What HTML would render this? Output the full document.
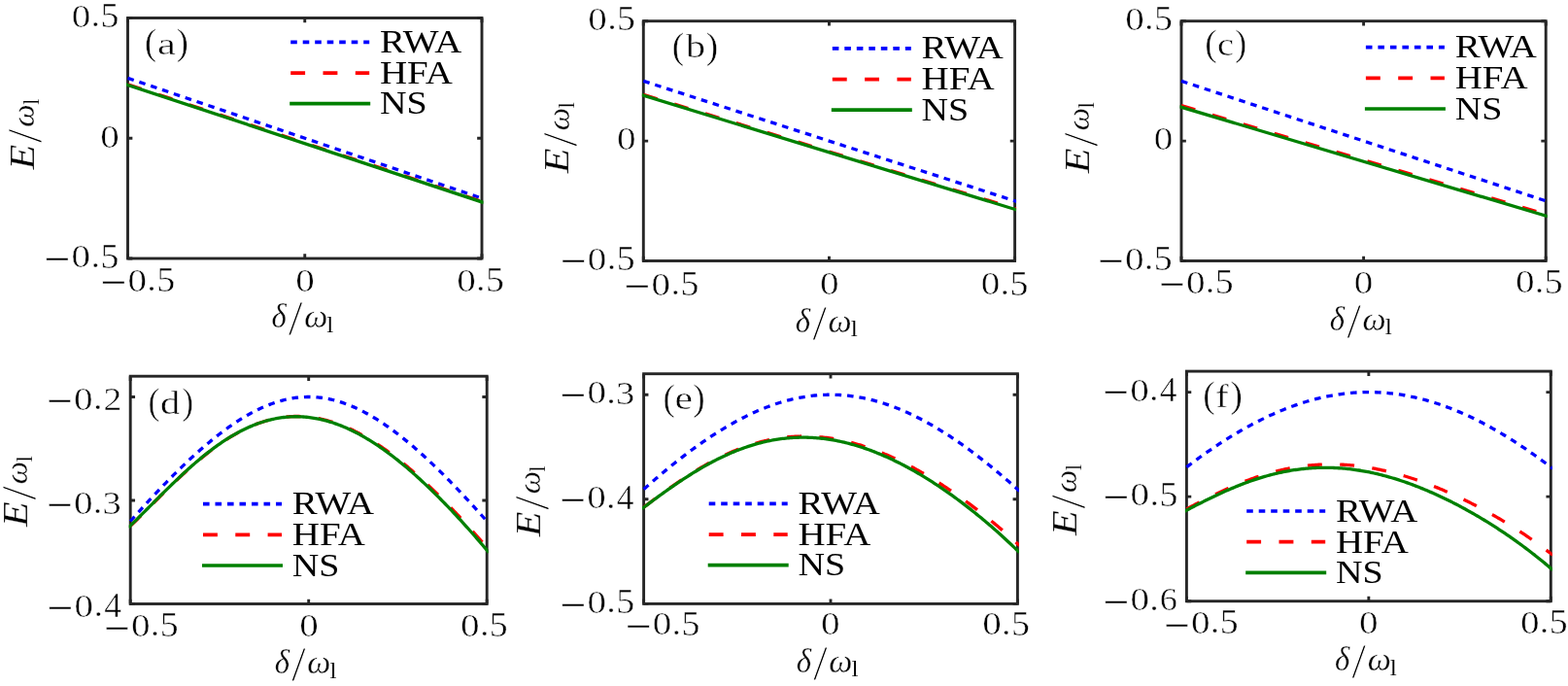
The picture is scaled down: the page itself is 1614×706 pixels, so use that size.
<!DOCTYPE html><html><head><meta charset="utf-8"><title>Quasi-energy comparison: RWA, HFA, NS</title><style>html,body{margin:0;padding:0;background:#fff;}svg{display:block;}</style></head><body>
<svg width="1614" height="706" viewBox="0 0 1614 706">
<rect width="1614" height="706" fill="#fff"/>
<path d="M131.5,266.00h4.85M496.0,266.00h-4.85M131.5,142.25h4.85M496.0,142.25h-4.85M131.5,18.50h4.85M496.0,18.50h-4.85M131.50,266.0v-4.85M131.50,18.5v4.85M313.75,266.0v-4.85M313.75,18.5v4.85M496.00,266.0v-4.85M496.00,18.5v4.85" stroke="#262626" stroke-width="2.9" fill="none"/>
<rect x="131.5" y="18.5" width="364.50" height="247.50" fill="none" stroke="#262626" stroke-width="2.9"/>
<defs><clipPath id="clipa"><rect x="130.0" y="18.5" width="367.5" height="247.5"/></clipPath></defs>
<g clip-path="url(#clipa)" fill="none" stroke-width="3.3">
<path d="M129.50,79.70 L498.00,204.80" stroke="#0000ff" stroke-dasharray="6.6 5.9" stroke-dashoffset="-2.11"/>
<path d="M129.50,86.14 L498.00,207.96" stroke="#ff0000" stroke-dasharray="14.9 18.4" stroke-dashoffset="-2.11"/>
<path d="M129.50,86.74 L498.00,208.56" stroke="#008000"/>
</g>
<g fill="none" stroke-width="3.7"><path d="M299.2,43.4h81" stroke="#0000ff" stroke-dasharray="6.6 5.9"/><path d="M299.2,75.05h81" stroke="#ff0000" stroke-dasharray="14.9 18.4"/><path d="M298.2,106.70h83" stroke="#008000"/></g>
<path d="M662.3,268.50h4.85M1044.6,268.50h-4.85M662.3,145.10h4.85M1044.6,145.10h-4.85M662.3,21.70h4.85M1044.6,21.70h-4.85M662.30,268.5v-4.85M662.30,21.7v4.85M853.45,268.5v-4.85M853.45,21.7v4.85M1044.60,268.5v-4.85M1044.60,21.7v4.85" stroke="#262626" stroke-width="2.9" fill="none"/>
<rect x="662.3" y="21.7" width="382.30" height="246.80" fill="none" stroke="#262626" stroke-width="2.9"/>
<defs><clipPath id="clipb"><rect x="660.8" y="21.7" width="385.29999999999995" height="246.8"/></clipPath></defs>
<g clip-path="url(#clipb)" fill="none" stroke-width="3.3">
<path d="M660.30,82.75 L1046.60,207.45" stroke="#0000ff" stroke-dasharray="6.6 5.9" stroke-dashoffset="-2.10"/>
<path d="M660.30,96.79 L1046.60,215.21" stroke="#ff0000" stroke-dasharray="14.9 18.4" stroke-dashoffset="-2.09"/>
<path d="M660.30,97.59 L1046.60,216.01" stroke="#008000"/>
</g>
<g fill="none" stroke-width="3.7"><path d="M856.8,49.9h81" stroke="#0000ff" stroke-dasharray="6.6 5.9"/><path d="M856.8,81.55h81" stroke="#ff0000" stroke-dasharray="14.9 18.4"/><path d="M855.8,113.20h83" stroke="#008000"/></g>
<path d="M1216.0,268.50h4.85M1591.2,268.50h-4.85M1216.0,145.10h4.85M1591.2,145.10h-4.85M1216.0,21.70h4.85M1591.2,21.70h-4.85M1216.00,268.5v-4.85M1216.00,21.7v4.85M1403.60,268.5v-4.85M1403.60,21.7v4.85M1591.20,268.5v-4.85M1591.20,21.7v4.85" stroke="#262626" stroke-width="2.9" fill="none"/>
<rect x="1216.0" y="21.7" width="375.20" height="246.80" fill="none" stroke="#262626" stroke-width="2.9"/>
<defs><clipPath id="clipc"><rect x="1214.5" y="21.7" width="378.20000000000005" height="246.8"/></clipPath></defs>
<g clip-path="url(#clipc)" fill="none" stroke-width="3.3">
<path d="M1214.00,82.74 L1593.20,207.46" stroke="#0000ff" stroke-dasharray="6.6 5.9" stroke-dashoffset="-2.11"/>
<path d="M1214.00,108.10 L1593.20,221.10" stroke="#ff0000" stroke-dasharray="14.9 18.4" stroke-dashoffset="-2.09"/>
<path d="M1214.00,109.70 L1593.20,222.70" stroke="#008000"/>
</g>
<g fill="none" stroke-width="3.7"><path d="M1405.9,48.7h81" stroke="#0000ff" stroke-dasharray="6.6 5.9"/><path d="M1405.9,80.35h81" stroke="#ff0000" stroke-dasharray="14.9 18.4"/><path d="M1404.9,112.00h83" stroke="#008000"/></g>
<path d="M134.2,621.50h4.85M501.2,621.50h-4.85M134.2,515.00h4.85M501.2,515.00h-4.85M134.2,408.50h4.85M501.2,408.50h-4.85M134.20,621.5v-4.85M134.20,387.2v4.85M317.70,621.5v-4.85M317.70,387.2v4.85M501.20,621.5v-4.85M501.20,387.2v4.85" stroke="#262626" stroke-width="2.9" fill="none"/>
<rect x="134.2" y="387.2" width="367.00" height="234.30" fill="none" stroke="#262626" stroke-width="2.9"/>
<defs><clipPath id="clipd"><rect x="132.7" y="387.2" width="370.0" height="234.3"/></clipPath></defs>
<g clip-path="url(#clipd)" fill="none" stroke-width="3.3">
<path d="M132.20,538.74 L133.75,536.98 L135.29,535.23 L136.84,533.49 L138.38,531.75 L139.93,530.02 L141.47,528.29 L143.02,526.57 L144.57,524.85 L146.11,523.15 L147.66,521.45 L149.20,519.75 L150.75,518.06 L152.30,516.38 L153.84,514.71 L155.39,513.04 L156.93,511.38 L158.48,509.73 L160.03,508.08 L161.57,506.45 L163.12,504.82 L164.66,503.19 L166.21,501.58 L167.75,499.97 L169.30,498.37 L170.85,496.78 L172.39,495.20 L173.94,493.63 L175.48,492.06 L177.03,490.51 L178.57,488.96 L180.12,487.42 L181.67,485.89 L183.21,484.37 L184.76,482.86 L186.30,481.36 L187.85,479.87 L189.40,478.39 L190.94,476.92 L192.49,475.46 L194.03,474.01 L195.58,472.57 L197.12,471.14 L198.67,469.72 L200.22,468.31 L201.76,466.92 L203.31,465.53 L204.85,464.16 L206.40,462.80 L207.95,461.45 L209.49,460.11 L211.04,458.79 L212.58,457.48 L214.13,456.18 L215.67,454.89 L217.22,453.62 L218.77,452.36 L220.31,451.11 L221.86,449.88 L223.40,448.66 L224.95,447.45 L226.50,446.26 L228.04,445.08 L229.59,443.92 L231.13,442.78 L232.68,441.64 L234.23,440.53 L235.77,439.43 L237.32,438.34 L238.86,437.27 L240.41,436.22 L241.95,435.18 L243.50,434.16 L245.05,433.16 L246.59,432.17 L248.14,431.20 L249.68,430.25 L251.23,429.32 L252.77,428.40 L254.32,427.50 L255.87,426.62 L257.41,425.76 L258.96,424.92 L260.50,424.10 L262.05,423.29 L263.60,422.51 L265.14,421.74 L266.69,420.99 L268.23,420.27 L269.78,419.56 L271.32,418.88 L272.87,418.21 L274.42,417.57 L275.96,416.94 L277.51,416.34 L279.05,415.76 L280.60,415.20 L282.15,414.66 L283.69,414.14 L285.24,413.65 L286.78,413.17 L288.33,412.72 L289.88,412.29 L291.42,411.89 L292.97,411.50 L294.51,411.14 L296.06,410.80 L297.60,410.49 L299.15,410.19 L300.70,409.92 L302.24,409.68 L303.79,409.45 L305.33,409.25 L306.88,409.08 L308.43,408.92 L309.97,408.80 L311.52,408.69 L313.06,408.61 L314.61,408.55 L316.15,408.51 L317.70,408.50 L319.25,408.51 L320.79,408.55 L322.34,408.61 L323.88,408.69 L325.43,408.80 L326.97,408.92 L328.52,409.08 L330.07,409.25 L331.61,409.45 L333.16,409.68 L334.70,409.92 L336.25,410.19 L337.80,410.49 L339.34,410.80 L340.89,411.14 L342.43,411.50 L343.98,411.89 L345.52,412.29 L347.07,412.72 L348.62,413.17 L350.16,413.65 L351.71,414.14 L353.25,414.66 L354.80,415.20 L356.35,415.76 L357.89,416.34 L359.44,416.94 L360.98,417.57 L362.53,418.21 L364.07,418.88 L365.62,419.56 L367.17,420.27 L368.71,420.99 L370.26,421.74 L371.80,422.51 L373.35,423.29 L374.90,424.10 L376.44,424.92 L377.99,425.76 L379.53,426.62 L381.08,427.50 L382.62,428.40 L384.17,429.32 L385.72,430.25 L387.26,431.20 L388.81,432.17 L390.35,433.16 L391.90,434.16 L393.45,435.18 L394.99,436.22 L396.54,437.27 L398.08,438.34 L399.63,439.43 L401.17,440.53 L402.72,441.64 L404.27,442.78 L405.81,443.92 L407.36,445.08 L408.90,446.26 L410.45,447.45 L412.00,448.66 L413.54,449.88 L415.09,451.11 L416.63,452.36 L418.18,453.62 L419.72,454.89 L421.27,456.18 L422.82,457.48 L424.36,458.79 L425.91,460.11 L427.45,461.45 L429.00,462.80 L430.55,464.16 L432.09,465.53 L433.64,466.92 L435.18,468.31 L436.73,469.72 L438.27,471.14 L439.82,472.57 L441.37,474.01 L442.91,475.46 L444.46,476.92 L446.00,478.39 L447.55,479.87 L449.10,481.36 L450.64,482.86 L452.19,484.37 L453.73,485.89 L455.28,487.42 L456.82,488.96 L458.37,490.51 L459.92,492.06 L461.46,493.63 L463.01,495.20 L464.55,496.78 L466.10,498.37 L467.65,499.97 L469.19,501.58 L470.74,503.19 L472.28,504.82 L473.83,506.45 L475.37,508.08 L476.92,509.73 L478.47,511.38 L480.01,513.04 L481.56,514.71 L483.10,516.38 L484.65,518.06 L486.20,519.75 L487.74,521.45 L489.29,523.15 L490.83,524.85 L492.38,526.57 L493.93,528.29 L495.47,530.02 L497.02,531.75 L498.56,533.49 L500.11,535.23 L501.65,536.98 L503.20,538.74" stroke="#0000ff" stroke-dasharray="6.6 5.9" stroke-dashoffset="-3.03"/>
<path d="M132.20,543.28 L133.75,541.79 L135.30,540.29 L136.86,538.78 L138.41,537.27 L139.96,535.74 L141.51,534.21 L143.07,532.68 L144.62,531.13 L146.17,529.59 L147.72,528.04 L149.28,526.48 L150.83,524.93 L152.38,523.37 L153.93,521.81 L155.48,520.25 L157.04,518.69 L158.59,517.13 L160.14,515.58 L161.69,514.02 L163.25,512.47 L164.80,510.92 L166.35,509.37 L167.90,507.83 L169.46,506.29 L171.01,504.75 L172.56,503.22 L174.11,501.70 L175.66,500.18 L177.22,498.68 L178.77,497.17 L180.32,495.68 L181.87,494.19 L183.43,492.72 L184.98,491.25 L186.53,489.79 L188.08,488.34 L189.64,486.91 L191.19,485.48 L192.74,484.07 L194.29,482.66 L195.84,481.27 L197.40,479.89 L198.95,478.53 L200.50,477.17 L202.05,475.83 L203.61,474.51 L205.16,473.20 L206.71,471.90 L208.26,470.62 L209.82,469.35 L211.37,468.10 L212.92,466.86 L214.47,465.64 L216.02,464.44 L217.58,463.25 L219.13,462.08 L220.68,460.93 L222.23,459.79 L223.79,458.67 L225.34,457.57 L226.89,456.49 L228.44,455.42 L229.99,454.38 L231.55,453.35 L233.10,452.34 L234.65,451.35 L236.20,450.38 L237.76,449.43 L239.31,448.50 L240.86,447.59 L242.41,446.70 L243.97,445.83 L245.52,444.97 L247.07,444.14 L248.62,443.33 L250.17,442.54 L251.73,441.77 L253.28,441.03 L254.83,440.30 L256.38,439.59 L257.94,438.91 L259.49,438.24 L261.04,437.60 L262.59,436.98 L264.15,436.38 L265.70,435.80 L267.25,435.25 L268.80,434.71 L270.35,434.20 L271.91,433.71 L273.46,433.24 L275.01,432.79 L276.56,432.37 L278.12,431.96 L279.67,431.58 L281.22,431.22 L282.77,430.89 L284.33,430.57 L285.88,430.28 L287.43,430.01 L288.98,429.76 L290.53,429.53 L292.09,429.33 L293.64,429.15 L295.19,428.99 L296.74,428.85 L298.30,428.73 L299.85,428.64 L301.40,428.57 L302.95,428.51 L304.51,428.49 L306.06,428.48 L307.61,428.49 L309.16,428.53 L310.71,428.59 L312.27,428.67 L313.82,428.77 L315.37,428.89 L316.92,429.04 L318.48,429.20 L320.03,429.39 L321.58,429.60 L323.13,429.83 L324.69,430.08 L326.24,430.35 L327.79,430.64 L329.34,430.95 L330.89,431.29 L332.45,431.64 L334.00,432.02 L335.55,432.41 L337.10,432.83 L338.66,433.26 L340.21,433.72 L341.76,434.19 L343.31,434.69 L344.87,435.20 L346.42,435.73 L347.97,436.29 L349.52,436.86 L351.07,437.45 L352.63,438.06 L354.18,438.69 L355.73,439.34 L357.28,440.01 L358.84,440.70 L360.39,441.40 L361.94,442.12 L363.49,442.86 L365.05,443.62 L366.60,444.40 L368.15,445.19 L369.70,446.00 L371.25,446.83 L372.81,447.68 L374.36,448.54 L375.91,449.42 L377.46,450.32 L379.02,451.24 L380.57,452.17 L382.12,453.11 L383.67,454.08 L385.23,455.05 L386.78,456.05 L388.33,457.06 L389.88,458.09 L391.43,459.13 L392.99,460.19 L394.54,461.26 L396.09,462.35 L397.64,463.45 L399.20,464.56 L400.75,465.70 L402.30,466.84 L403.85,468.00 L405.41,469.18 L406.96,470.36 L408.51,471.57 L410.06,472.78 L411.61,474.01 L413.17,475.25 L414.72,476.51 L416.27,477.78 L417.82,479.06 L419.38,480.35 L420.93,481.66 L422.48,482.98 L424.03,484.31 L425.58,485.66 L427.14,487.01 L428.69,488.38 L430.24,489.76 L431.79,491.15 L433.35,492.55 L434.90,493.97 L436.45,495.39 L438.00,496.83 L439.56,498.28 L441.11,499.73 L442.66,501.20 L444.21,502.68 L445.76,504.17 L447.32,505.67 L448.87,507.18 L450.42,508.70 L451.97,510.23 L453.53,511.77 L455.08,513.32 L456.63,514.88 L458.18,516.45 L459.74,518.03 L461.29,519.62 L462.84,521.22 L464.39,522.83 L465.94,524.44 L467.50,526.07 L469.05,527.70 L470.60,529.34 L472.15,531.00 L473.71,532.66 L475.26,534.33 L476.81,536.00 L478.36,537.69 L479.92,539.38 L481.47,541.09 L483.02,542.80 L484.57,544.52 L486.12,546.25 L487.68,547.98 L489.23,549.73 L490.78,551.48 L492.33,553.24 L493.89,555.01 L495.44,556.79 L496.99,558.57 L498.54,560.36 L500.10,562.16 L501.65,563.97 L503.20,565.79" stroke="#ff0000" stroke-dasharray="14.9 18.4" stroke-dashoffset="-2.77"/>
<path d="M132.20,542.88 L133.75,541.39 L135.30,539.89 L136.86,538.38 L138.41,536.87 L139.96,535.34 L141.51,533.81 L143.07,532.28 L144.62,530.74 L146.17,529.19 L147.72,527.64 L149.28,526.09 L150.83,524.53 L152.38,522.98 L153.93,521.42 L155.48,519.86 L157.04,518.30 L158.59,516.75 L160.14,515.19 L161.69,513.64 L163.25,512.08 L164.80,510.54 L166.35,508.99 L167.90,507.45 L169.46,505.91 L171.01,504.38 L172.56,502.85 L174.11,501.33 L175.66,499.82 L177.22,498.31 L178.77,496.82 L180.32,495.33 L181.87,493.84 L183.43,492.37 L184.98,490.91 L186.53,489.45 L188.08,488.01 L189.64,486.57 L191.19,485.15 L192.74,483.74 L194.29,482.34 L195.84,480.95 L197.40,479.58 L198.95,478.22 L200.50,476.87 L202.05,475.53 L203.61,474.21 L205.16,472.91 L206.71,471.62 L208.26,470.34 L209.82,469.08 L211.37,467.83 L212.92,466.60 L214.47,465.39 L216.02,464.19 L217.58,463.01 L219.13,461.84 L220.68,460.70 L222.23,459.57 L223.79,458.45 L225.34,457.36 L226.89,456.28 L228.44,455.23 L229.99,454.19 L231.55,453.17 L233.10,452.16 L234.65,451.18 L236.20,450.22 L237.76,449.28 L239.31,448.35 L240.86,447.45 L242.41,446.56 L243.97,445.70 L245.52,444.86 L247.07,444.03 L248.62,443.23 L250.17,442.45 L251.73,441.69 L253.28,440.95 L254.83,440.23 L256.38,439.53 L257.94,438.86 L259.49,438.20 L261.04,437.57 L262.59,436.96 L264.15,436.37 L265.70,435.80 L267.25,435.25 L268.80,434.73 L270.35,434.22 L271.91,433.74 L273.46,433.28 L275.01,432.85 L276.56,432.43 L278.12,432.04 L279.67,431.67 L281.22,431.32 L282.77,431.00 L284.33,430.69 L285.88,430.41 L287.43,430.15 L288.98,429.91 L290.53,429.70 L292.09,429.50 L293.64,429.33 L295.19,429.18 L296.74,429.06 L298.30,428.95 L299.85,428.87 L301.40,428.81 L302.95,428.77 L304.51,428.76 L306.06,428.76 L307.61,428.79 L309.16,428.84 L310.71,428.91 L312.27,429.00 L313.82,429.12 L315.37,429.25 L316.92,429.41 L318.48,429.59 L320.03,429.79 L321.58,430.01 L323.13,430.26 L324.69,430.52 L326.24,430.81 L327.79,431.11 L329.34,431.44 L330.89,431.79 L332.45,432.15 L334.00,432.54 L335.55,432.95 L337.10,433.38 L338.66,433.83 L340.21,434.30 L341.76,434.79 L343.31,435.30 L344.87,435.83 L346.42,436.38 L347.97,436.95 L349.52,437.54 L351.07,438.15 L352.63,438.77 L354.18,439.42 L355.73,440.08 L357.28,440.77 L358.84,441.47 L360.39,442.19 L361.94,442.93 L363.49,443.69 L365.05,444.46 L366.60,445.26 L368.15,446.07 L369.70,446.90 L371.25,447.74 L372.81,448.61 L374.36,449.49 L375.91,450.39 L377.46,451.30 L379.02,452.23 L380.57,453.18 L382.12,454.15 L383.67,455.13 L385.23,456.12 L386.78,457.14 L388.33,458.17 L389.88,459.21 L391.43,460.27 L392.99,461.35 L394.54,462.44 L396.09,463.55 L397.64,464.67 L399.20,465.80 L400.75,466.96 L402.30,468.12 L403.85,469.30 L405.41,470.49 L406.96,471.70 L408.51,472.92 L410.06,474.16 L411.61,475.41 L413.17,476.67 L414.72,477.95 L416.27,479.24 L417.82,480.54 L419.38,481.86 L420.93,483.18 L422.48,484.52 L424.03,485.88 L425.58,487.24 L427.14,488.62 L428.69,490.01 L430.24,491.41 L431.79,492.82 L433.35,494.25 L434.90,495.68 L436.45,497.13 L438.00,498.59 L439.56,500.06 L441.11,501.54 L442.66,503.03 L444.21,504.53 L445.76,506.04 L447.32,507.57 L448.87,509.10 L450.42,510.64 L451.97,512.20 L453.53,513.76 L455.08,515.34 L456.63,516.92 L458.18,518.51 L459.74,520.12 L461.29,521.73 L462.84,523.35 L464.39,524.98 L465.94,526.62 L467.50,528.27 L469.05,529.93 L470.60,531.60 L472.15,533.27 L473.71,534.96 L475.26,536.65 L476.81,538.36 L478.36,540.07 L479.92,541.79 L481.47,543.52 L483.02,545.25 L484.57,547.00 L486.12,548.75 L487.68,550.51 L489.23,552.28 L490.78,554.06 L492.33,555.85 L493.89,557.64 L495.44,559.45 L496.99,561.26 L498.54,563.08 L500.10,564.90 L501.65,566.74 L503.20,568.58" stroke="#008000"/>
</g>
<g fill="none" stroke-width="3.7"><path d="M209.0,518.7h81" stroke="#0000ff" stroke-dasharray="6.6 5.9"/><path d="M209.0,550.35h81" stroke="#ff0000" stroke-dasharray="14.9 18.4"/><path d="M208.0,582.00h83" stroke="#008000"/></g>
<path d="M662.6,621.40h4.85M1047.4,621.40h-4.85M662.6,513.81h4.85M1047.4,513.81h-4.85M662.6,406.22h4.85M1047.4,406.22h-4.85M662.60,621.4v-4.85M662.60,384.7v4.85M855.00,621.4v-4.85M855.00,384.7v4.85M1047.40,621.4v-4.85M1047.40,384.7v4.85" stroke="#262626" stroke-width="2.9" fill="none"/>
<rect x="662.6" y="384.7" width="384.80" height="236.70" fill="none" stroke="#262626" stroke-width="2.9"/>
<defs><clipPath id="clipe"><rect x="661.1" y="384.7" width="387.80000000000007" height="236.7"/></clipPath></defs>
<g clip-path="url(#clipe)" fill="none" stroke-width="3.3">
<path d="M660.60,505.40 L662.22,503.94 L663.84,502.49 L665.46,501.05 L667.08,499.62 L668.70,498.19 L670.32,496.78 L671.94,495.36 L673.56,493.96 L675.18,492.57 L676.80,491.18 L678.42,489.80 L680.04,488.43 L681.66,487.06 L683.28,485.71 L684.90,484.36 L686.52,483.02 L688.14,481.69 L689.76,480.37 L691.38,479.05 L693.00,477.75 L694.62,476.45 L696.24,475.16 L697.86,473.88 L699.48,472.62 L701.10,471.35 L702.72,470.10 L704.34,468.86 L705.96,467.63 L707.58,466.40 L709.20,465.19 L710.82,463.99 L712.44,462.79 L714.06,461.61 L715.68,460.43 L717.30,459.27 L718.92,458.11 L720.54,456.97 L722.16,455.83 L723.78,454.71 L725.40,453.59 L727.02,452.49 L728.64,451.40 L730.26,450.32 L731.88,449.24 L733.50,448.18 L735.12,447.13 L736.74,446.10 L738.36,445.07 L739.98,444.05 L741.60,443.05 L743.22,442.06 L744.84,441.08 L746.46,440.11 L748.08,439.15 L749.70,438.20 L751.32,437.27 L752.94,436.35 L754.56,435.44 L756.18,434.54 L757.80,433.66 L759.42,432.78 L761.04,431.92 L762.66,431.08 L764.28,430.24 L765.90,429.42 L767.52,428.61 L769.14,427.81 L770.76,427.03 L772.38,426.26 L774.00,425.51 L775.62,424.76 L777.24,424.03 L778.86,423.32 L780.48,422.61 L782.10,421.93 L783.72,421.25 L785.34,420.59 L786.96,419.94 L788.58,419.31 L790.20,418.69 L791.82,418.09 L793.44,417.49 L795.06,416.92 L796.68,416.36 L798.30,415.81 L799.92,415.28 L801.54,414.76 L803.16,414.25 L804.78,413.77 L806.40,413.29 L808.02,412.83 L809.64,412.39 L811.26,411.96 L812.88,411.55 L814.50,411.15 L816.12,410.76 L817.74,410.39 L819.36,410.04 L820.98,409.70 L822.60,409.38 L824.22,409.07 L825.84,408.78 L827.46,408.51 L829.08,408.25 L830.70,408.00 L832.32,407.77 L833.94,407.56 L835.56,407.36 L837.18,407.18 L838.80,407.01 L840.42,406.86 L842.04,406.73 L843.66,406.61 L845.28,406.50 L846.90,406.42 L848.52,406.35 L850.14,406.29 L851.76,406.25 L853.38,406.23 L855.00,406.22 L856.62,406.23 L858.24,406.25 L859.86,406.29 L861.48,406.35 L863.10,406.42 L864.72,406.50 L866.34,406.61 L867.96,406.73 L869.58,406.86 L871.20,407.01 L872.82,407.18 L874.44,407.36 L876.06,407.56 L877.68,407.77 L879.30,408.00 L880.92,408.25 L882.54,408.51 L884.16,408.78 L885.78,409.07 L887.40,409.38 L889.02,409.70 L890.64,410.04 L892.26,410.39 L893.88,410.76 L895.50,411.15 L897.12,411.55 L898.74,411.96 L900.36,412.39 L901.98,412.83 L903.60,413.29 L905.22,413.77 L906.84,414.25 L908.46,414.76 L910.08,415.28 L911.70,415.81 L913.32,416.36 L914.94,416.92 L916.56,417.49 L918.18,418.09 L919.80,418.69 L921.42,419.31 L923.04,419.94 L924.66,420.59 L926.28,421.25 L927.90,421.93 L929.52,422.61 L931.14,423.32 L932.76,424.03 L934.38,424.76 L936.00,425.51 L937.62,426.26 L939.24,427.03 L940.86,427.81 L942.48,428.61 L944.10,429.42 L945.72,430.24 L947.34,431.08 L948.96,431.92 L950.58,432.78 L952.20,433.66 L953.82,434.54 L955.44,435.44 L957.06,436.35 L958.68,437.27 L960.30,438.20 L961.92,439.15 L963.54,440.11 L965.16,441.08 L966.78,442.06 L968.40,443.05 L970.02,444.05 L971.64,445.07 L973.26,446.10 L974.88,447.13 L976.50,448.18 L978.12,449.24 L979.74,450.32 L981.36,451.40 L982.98,452.49 L984.60,453.59 L986.22,454.71 L987.84,455.83 L989.46,456.97 L991.08,458.11 L992.70,459.27 L994.32,460.43 L995.94,461.61 L997.56,462.79 L999.18,463.99 L1000.80,465.19 L1002.42,466.40 L1004.04,467.63 L1005.66,468.86 L1007.28,470.10 L1008.90,471.35 L1010.52,472.62 L1012.14,473.88 L1013.76,475.16 L1015.38,476.45 L1017.00,477.75 L1018.62,479.05 L1020.24,480.37 L1021.86,481.69 L1023.48,483.02 L1025.10,484.36 L1026.72,485.71 L1028.34,487.06 L1029.96,488.43 L1031.58,489.80 L1033.20,491.18 L1034.82,492.57 L1036.44,493.96 L1038.06,495.36 L1039.68,496.78 L1041.30,498.19 L1042.92,499.62 L1044.54,501.05 L1046.16,502.49 L1047.78,503.94 L1049.40,505.40" stroke="#0000ff" stroke-dasharray="6.6 5.9" stroke-dashoffset="-2.69"/>
<path d="M660.60,523.63 L662.23,522.39 L663.85,521.15 L665.48,519.91 L667.11,518.68 L668.73,517.45 L670.36,516.22 L671.99,515.00 L673.61,513.79 L675.24,512.57 L676.87,511.37 L678.49,510.17 L680.12,508.97 L681.75,507.78 L683.37,506.60 L685.00,505.42 L686.63,504.25 L688.26,503.08 L689.88,501.93 L691.51,500.78 L693.14,499.64 L694.76,498.51 L696.39,497.39 L698.02,496.27 L699.64,495.17 L701.27,494.07 L702.90,492.98 L704.52,491.91 L706.15,490.84 L707.78,489.78 L709.40,488.74 L711.03,487.70 L712.66,486.67 L714.28,485.66 L715.91,484.66 L717.54,483.66 L719.16,482.68 L720.79,481.71 L722.42,480.76 L724.04,479.81 L725.67,478.88 L727.30,477.96 L728.92,477.05 L730.55,476.16 L732.18,475.28 L733.81,474.41 L735.43,473.55 L737.06,472.71 L738.69,471.88 L740.31,471.06 L741.94,470.26 L743.57,469.47 L745.19,468.70 L746.82,467.93 L748.45,467.19 L750.07,466.46 L751.70,465.74 L753.33,465.03 L754.95,464.34 L756.58,463.67 L758.21,463.01 L759.83,462.36 L761.46,461.73 L763.09,461.11 L764.71,460.51 L766.34,459.93 L767.97,459.35 L769.59,458.80 L771.22,458.26 L772.85,457.73 L774.47,457.22 L776.10,456.72 L777.73,456.24 L779.35,455.78 L780.98,455.33 L782.61,454.89 L784.24,454.47 L785.86,454.07 L787.49,453.68 L789.12,453.31 L790.74,452.95 L792.37,452.61 L794.00,452.28 L795.62,451.97 L797.25,451.68 L798.88,451.40 L800.50,451.13 L802.13,450.89 L803.76,450.65 L805.38,450.43 L807.01,450.23 L808.64,450.05 L810.26,449.87 L811.89,449.72 L813.52,449.58 L815.14,449.45 L816.77,449.34 L818.40,449.25 L820.02,449.17 L821.65,449.10 L823.28,449.05 L824.90,449.02 L826.53,449.00 L828.16,449.00 L829.78,449.01 L831.41,449.04 L833.04,449.08 L834.67,449.13 L836.29,449.21 L837.92,449.29 L839.55,449.39 L841.17,449.51 L842.80,449.64 L844.43,449.78 L846.05,449.94 L847.68,450.12 L849.31,450.31 L850.93,450.51 L852.56,450.72 L854.19,450.96 L855.81,451.20 L857.44,451.46 L859.07,451.73 L860.69,452.02 L862.32,452.32 L863.95,452.64 L865.57,452.97 L867.20,453.31 L868.83,453.66 L870.45,454.03 L872.08,454.42 L873.71,454.81 L875.33,455.22 L876.96,455.64 L878.59,456.08 L880.22,456.53 L881.84,456.99 L883.47,457.47 L885.10,457.95 L886.72,458.45 L888.35,458.97 L889.98,459.49 L891.60,460.03 L893.23,460.58 L894.86,461.14 L896.48,461.72 L898.11,462.30 L899.74,462.90 L901.36,463.51 L902.99,464.14 L904.62,464.77 L906.24,465.42 L907.87,466.08 L909.50,466.75 L911.12,467.43 L912.75,468.12 L914.38,468.82 L916.00,469.54 L917.63,470.27 L919.26,471.00 L920.88,471.75 L922.51,472.51 L924.14,473.28 L925.76,474.06 L927.39,474.86 L929.02,475.66 L930.65,476.47 L932.27,477.30 L933.90,478.13 L935.53,478.98 L937.15,479.83 L938.78,480.70 L940.41,481.57 L942.03,482.46 L943.66,483.35 L945.29,484.26 L946.91,485.17 L948.54,486.10 L950.17,487.03 L951.79,487.98 L953.42,488.93 L955.05,489.90 L956.67,490.87 L958.30,491.85 L959.93,492.85 L961.55,493.85 L963.18,494.86 L964.81,495.88 L966.43,496.91 L968.06,497.95 L969.69,499.00 L971.31,500.06 L972.94,501.12 L974.57,502.20 L976.19,503.28 L977.82,504.38 L979.45,505.48 L981.08,506.59 L982.70,507.71 L984.33,508.84 L985.96,509.98 L987.58,511.13 L989.21,512.29 L990.84,513.45 L992.46,514.63 L994.09,515.81 L995.72,517.00 L997.34,518.20 L998.97,519.41 L1000.60,520.63 L1002.22,521.86 L1003.85,523.10 L1005.48,524.34 L1007.10,525.60 L1008.73,526.86 L1010.36,528.13 L1011.98,529.41 L1013.61,530.71 L1015.24,532.00 L1016.86,533.31 L1018.49,534.63 L1020.12,535.96 L1021.74,537.29 L1023.37,538.64 L1025.00,539.99 L1026.63,541.36 L1028.25,542.73 L1029.88,544.12 L1031.51,545.51 L1033.13,546.91 L1034.76,548.32 L1036.39,549.74 L1038.01,551.18 L1039.64,552.62 L1041.27,554.07 L1042.89,555.53 L1044.52,557.00 L1046.15,558.48 L1047.77,559.98 L1049.40,561.48" stroke="#ff0000" stroke-dasharray="14.9 18.4" stroke-dashoffset="-2.51"/>
<path d="M660.60,523.73 L662.23,522.51 L663.85,521.29 L665.48,520.07 L667.11,518.85 L668.73,517.64 L670.36,516.43 L671.99,515.23 L673.61,514.03 L675.24,512.83 L676.87,511.64 L678.49,510.45 L680.12,509.27 L681.75,508.10 L683.37,506.93 L685.00,505.76 L686.63,504.61 L688.26,503.46 L689.88,502.32 L691.51,501.18 L693.14,500.05 L694.76,498.93 L696.39,497.82 L698.02,496.72 L699.64,495.63 L701.27,494.54 L702.90,493.47 L704.52,492.40 L706.15,491.35 L707.78,490.30 L709.40,489.26 L711.03,488.24 L712.66,487.22 L714.28,486.22 L715.91,485.22 L717.54,484.24 L719.16,483.27 L720.79,482.31 L722.42,481.37 L724.04,480.43 L725.67,479.51 L727.30,478.60 L728.92,477.70 L730.55,476.81 L732.18,475.94 L733.81,475.08 L735.43,474.23 L737.06,473.39 L738.69,472.57 L740.31,471.76 L741.94,470.97 L743.57,470.19 L745.19,469.42 L746.82,468.67 L748.45,467.93 L750.07,467.21 L751.70,466.49 L753.33,465.80 L754.95,465.12 L756.58,464.45 L758.21,463.80 L759.83,463.16 L761.46,462.53 L763.09,461.93 L764.71,461.33 L766.34,460.75 L767.97,460.19 L769.59,459.64 L771.22,459.11 L772.85,458.59 L774.47,458.08 L776.10,457.60 L777.73,457.12 L779.35,456.67 L780.98,456.22 L782.61,455.80 L784.24,455.39 L785.86,454.99 L787.49,454.61 L789.12,454.25 L790.74,453.90 L792.37,453.56 L794.00,453.25 L795.62,452.94 L797.25,452.66 L798.88,452.39 L800.50,452.13 L802.13,451.89 L803.76,451.67 L805.38,451.46 L807.01,451.27 L808.64,451.09 L810.26,450.93 L811.89,450.78 L813.52,450.65 L815.14,450.54 L816.77,450.44 L818.40,450.35 L820.02,450.28 L821.65,450.23 L823.28,450.19 L824.90,450.17 L826.53,450.16 L828.16,450.17 L829.78,450.20 L831.41,450.24 L833.04,450.29 L834.67,450.36 L836.29,450.44 L837.92,450.54 L839.55,450.66 L841.17,450.79 L842.80,450.93 L844.43,451.09 L846.05,451.26 L847.68,451.45 L849.31,451.66 L850.93,451.87 L852.56,452.11 L854.19,452.35 L855.81,452.62 L857.44,452.89 L859.07,453.18 L860.69,453.49 L862.32,453.81 L863.95,454.14 L865.57,454.49 L867.20,454.85 L868.83,455.22 L870.45,455.61 L872.08,456.01 L873.71,456.43 L875.33,456.86 L876.96,457.30 L878.59,457.76 L880.22,458.23 L881.84,458.72 L883.47,459.21 L885.10,459.72 L886.72,460.25 L888.35,460.78 L889.98,461.33 L891.60,461.90 L893.23,462.47 L894.86,463.06 L896.48,463.66 L898.11,464.27 L899.74,464.90 L901.36,465.54 L902.99,466.19 L904.62,466.85 L906.24,467.53 L907.87,468.22 L909.50,468.91 L911.12,469.63 L912.75,470.35 L914.38,471.09 L916.00,471.83 L917.63,472.59 L919.26,473.36 L920.88,474.14 L922.51,474.94 L924.14,475.74 L925.76,476.56 L927.39,477.39 L929.02,478.23 L930.65,479.08 L932.27,479.94 L933.90,480.81 L935.53,481.69 L937.15,482.59 L938.78,483.49 L940.41,484.41 L942.03,485.33 L943.66,486.27 L945.29,487.22 L946.91,488.17 L948.54,489.14 L950.17,490.12 L951.79,491.11 L953.42,492.11 L955.05,493.12 L956.67,494.14 L958.30,495.17 L959.93,496.21 L961.55,497.26 L963.18,498.32 L964.81,499.39 L966.43,500.47 L968.06,501.57 L969.69,502.67 L971.31,503.78 L972.94,504.90 L974.57,506.03 L976.19,507.17 L977.82,508.32 L979.45,509.47 L981.08,510.64 L982.70,511.82 L984.33,513.01 L985.96,514.21 L987.58,515.42 L989.21,516.63 L990.84,517.86 L992.46,519.10 L994.09,520.34 L995.72,521.60 L997.34,522.87 L998.97,524.14 L1000.60,525.43 L1002.22,526.72 L1003.85,528.03 L1005.48,529.34 L1007.10,530.66 L1008.73,532.00 L1010.36,533.34 L1011.98,534.70 L1013.61,536.06 L1015.24,537.43 L1016.86,538.82 L1018.49,540.21 L1020.12,541.61 L1021.74,543.03 L1023.37,544.45 L1025.00,545.88 L1026.63,547.33 L1028.25,548.78 L1029.88,550.25 L1031.51,551.72 L1033.13,553.21 L1034.76,554.70 L1036.39,556.21 L1038.01,557.73 L1039.64,559.26 L1041.27,560.80 L1042.89,562.35 L1044.52,563.91 L1046.15,565.48 L1047.77,567.07 L1049.40,568.66" stroke="#008000"/>
</g>
<g fill="none" stroke-width="3.7"><path d="M729.7,518.4h81" stroke="#0000ff" stroke-dasharray="6.6 5.9"/><path d="M729.7,550.05h81" stroke="#ff0000" stroke-dasharray="14.9 18.4"/><path d="M728.7,581.70h83" stroke="#008000"/></g>
<path d="M1221.4,618.70h4.85M1596.3,618.70h-4.85M1221.4,511.15h4.85M1596.3,511.15h-4.85M1221.4,403.61h4.85M1596.3,403.61h-4.85M1221.40,618.7v-4.85M1221.40,382.1v4.85M1408.85,618.7v-4.85M1408.85,382.1v4.85M1596.30,618.7v-4.85M1596.30,382.1v4.85" stroke="#262626" stroke-width="2.9" fill="none"/>
<rect x="1221.4" y="382.1" width="374.90" height="236.60" fill="none" stroke="#262626" stroke-width="2.9"/>
<defs><clipPath id="clipf"><rect x="1219.9" y="382.1" width="377.89999999999986" height="236.60000000000002"/></clipPath></defs>
<g clip-path="url(#clipf)" fill="none" stroke-width="3.3">
<path d="M1219.40,482.24 L1220.98,481.04 L1222.56,479.84 L1224.14,478.65 L1225.72,477.47 L1227.29,476.29 L1228.87,475.12 L1230.45,473.96 L1232.03,472.80 L1233.61,471.66 L1235.19,470.52 L1236.77,469.39 L1238.35,468.27 L1239.92,467.15 L1241.50,466.04 L1243.08,464.94 L1244.66,463.85 L1246.24,462.77 L1247.82,461.69 L1249.40,460.63 L1250.98,459.57 L1252.55,458.52 L1254.13,457.48 L1255.71,456.44 L1257.29,455.42 L1258.87,454.40 L1260.45,453.39 L1262.03,452.39 L1263.61,451.40 L1265.18,450.42 L1266.76,449.44 L1268.34,448.48 L1269.92,447.52 L1271.50,446.57 L1273.08,445.64 L1274.66,444.71 L1276.24,443.79 L1277.81,442.87 L1279.39,441.97 L1280.97,441.08 L1282.55,440.20 L1284.13,439.32 L1285.71,438.46 L1287.29,437.60 L1288.87,436.76 L1290.44,435.92 L1292.02,435.09 L1293.60,434.28 L1295.18,433.47 L1296.76,432.67 L1298.34,431.88 L1299.92,431.11 L1301.50,430.34 L1303.07,429.58 L1304.65,428.83 L1306.23,428.09 L1307.81,427.36 L1309.39,426.65 L1310.97,425.94 L1312.55,425.24 L1314.12,424.55 L1315.70,423.88 L1317.28,423.21 L1318.86,422.56 L1320.44,421.91 L1322.02,421.28 L1323.60,420.65 L1325.18,420.04 L1326.76,419.43 L1328.33,418.84 L1329.91,418.26 L1331.49,417.69 L1333.07,417.13 L1334.65,416.58 L1336.23,416.04 L1337.81,415.51 L1339.38,415.00 L1340.96,414.49 L1342.54,414.00 L1344.12,413.51 L1345.70,413.04 L1347.28,412.58 L1348.86,412.13 L1350.44,411.69 L1352.02,411.26 L1353.59,410.85 L1355.17,410.44 L1356.75,410.05 L1358.33,409.67 L1359.91,409.30 L1361.49,408.94 L1363.07,408.59 L1364.64,408.26 L1366.22,407.93 L1367.80,407.62 L1369.38,407.32 L1370.96,407.03 L1372.54,406.75 L1374.12,406.48 L1375.70,406.23 L1377.28,405.99 L1378.85,405.76 L1380.43,405.54 L1382.01,405.33 L1383.59,405.13 L1385.17,404.95 L1386.75,404.78 L1388.33,404.62 L1389.90,404.47 L1391.48,404.33 L1393.06,404.20 L1394.64,404.09 L1396.22,403.99 L1397.80,403.90 L1399.38,403.82 L1400.96,403.76 L1402.54,403.70 L1404.11,403.66 L1405.69,403.63 L1407.27,403.62 L1408.85,403.61 L1410.43,403.62 L1412.01,403.63 L1413.59,403.66 L1415.16,403.70 L1416.74,403.76 L1418.32,403.82 L1419.90,403.90 L1421.48,403.99 L1423.06,404.09 L1424.64,404.20 L1426.22,404.33 L1427.80,404.47 L1429.37,404.62 L1430.95,404.78 L1432.53,404.95 L1434.11,405.13 L1435.69,405.33 L1437.27,405.54 L1438.85,405.76 L1440.42,405.99 L1442.00,406.23 L1443.58,406.48 L1445.16,406.75 L1446.74,407.03 L1448.32,407.32 L1449.90,407.62 L1451.48,407.93 L1453.06,408.26 L1454.63,408.59 L1456.21,408.94 L1457.79,409.30 L1459.37,409.67 L1460.95,410.05 L1462.53,410.44 L1464.11,410.85 L1465.68,411.26 L1467.26,411.69 L1468.84,412.13 L1470.42,412.58 L1472.00,413.04 L1473.58,413.51 L1475.16,414.00 L1476.74,414.49 L1478.32,415.00 L1479.89,415.51 L1481.47,416.04 L1483.05,416.58 L1484.63,417.13 L1486.21,417.69 L1487.79,418.26 L1489.37,418.84 L1490.94,419.43 L1492.52,420.04 L1494.10,420.65 L1495.68,421.28 L1497.26,421.91 L1498.84,422.56 L1500.42,423.21 L1502.00,423.88 L1503.58,424.55 L1505.15,425.24 L1506.73,425.94 L1508.31,426.65 L1509.89,427.36 L1511.47,428.09 L1513.05,428.83 L1514.63,429.58 L1516.20,430.34 L1517.78,431.11 L1519.36,431.88 L1520.94,432.67 L1522.52,433.47 L1524.10,434.28 L1525.68,435.09 L1527.26,435.92 L1528.84,436.76 L1530.41,437.60 L1531.99,438.46 L1533.57,439.32 L1535.15,440.20 L1536.73,441.08 L1538.31,441.97 L1539.89,442.87 L1541.46,443.79 L1543.04,444.71 L1544.62,445.64 L1546.20,446.57 L1547.78,447.52 L1549.36,448.48 L1550.94,449.44 L1552.52,450.42 L1554.10,451.40 L1555.67,452.39 L1557.25,453.39 L1558.83,454.40 L1560.41,455.42 L1561.99,456.44 L1563.57,457.48 L1565.15,458.52 L1566.72,459.57 L1568.30,460.63 L1569.88,461.69 L1571.46,462.77 L1573.04,463.85 L1574.62,464.94 L1576.20,466.04 L1577.78,467.15 L1579.36,468.27 L1580.93,469.39 L1582.51,470.52 L1584.09,471.66 L1585.67,472.80 L1587.25,473.96 L1588.83,475.12 L1590.41,476.29 L1591.98,477.47 L1593.56,478.65 L1595.14,479.84 L1596.72,481.04 L1598.30,482.24" stroke="#0000ff" stroke-dasharray="6.6 5.9" stroke-dashoffset="-2.52"/>
<path d="M1219.40,524.89 L1220.99,524.05 L1222.57,523.21 L1224.16,522.38 L1225.74,521.54 L1227.33,520.71 L1228.91,519.88 L1230.50,519.06 L1232.08,518.23 L1233.67,517.41 L1235.25,516.60 L1236.84,515.79 L1238.42,514.98 L1240.01,514.17 L1241.59,513.37 L1243.18,512.58 L1244.77,511.79 L1246.35,511.00 L1247.94,510.23 L1249.52,509.45 L1251.11,508.69 L1252.69,507.93 L1254.28,507.17 L1255.86,506.42 L1257.45,505.68 L1259.03,504.95 L1260.62,504.22 L1262.20,503.50 L1263.79,502.79 L1265.38,502.08 L1266.96,501.39 L1268.55,500.70 L1270.13,500.02 L1271.72,499.35 L1273.30,498.68 L1274.89,498.03 L1276.47,497.38 L1278.06,496.75 L1279.64,496.12 L1281.23,495.50 L1282.81,494.89 L1284.40,494.29 L1285.98,493.70 L1287.57,493.12 L1289.16,492.55 L1290.74,491.99 L1292.33,491.43 L1293.91,490.89 L1295.50,490.36 L1297.08,489.84 L1298.67,489.33 L1300.25,488.83 L1301.84,488.34 L1303.42,487.86 L1305.01,487.39 L1306.59,486.94 L1308.18,486.49 L1309.77,486.05 L1311.35,485.63 L1312.94,485.22 L1314.52,484.81 L1316.11,484.42 L1317.69,484.04 L1319.28,483.67 L1320.86,483.31 L1322.45,482.97 L1324.03,482.63 L1325.62,482.31 L1327.20,481.99 L1328.79,481.69 L1330.37,481.40 L1331.96,481.13 L1333.55,480.86 L1335.13,480.60 L1336.72,480.36 L1338.30,480.13 L1339.89,479.90 L1341.47,479.69 L1343.06,479.50 L1344.64,479.31 L1346.23,479.13 L1347.81,478.97 L1349.40,478.82 L1350.98,478.68 L1352.57,478.55 L1354.16,478.43 L1355.74,478.33 L1357.33,478.23 L1358.91,478.15 L1360.50,478.08 L1362.08,478.02 L1363.67,477.97 L1365.25,477.93 L1366.84,477.90 L1368.42,477.89 L1370.01,477.88 L1371.59,477.89 L1373.18,477.91 L1374.76,477.94 L1376.35,477.98 L1377.94,478.03 L1379.52,478.09 L1381.11,478.17 L1382.69,478.25 L1384.28,478.35 L1385.86,478.45 L1387.45,478.57 L1389.03,478.70 L1390.62,478.84 L1392.20,478.98 L1393.79,479.14 L1395.37,479.31 L1396.96,479.50 L1398.55,479.69 L1400.13,479.89 L1401.72,480.10 L1403.30,480.32 L1404.89,480.56 L1406.47,480.80 L1408.06,481.05 L1409.64,481.31 L1411.23,481.59 L1412.81,481.87 L1414.40,482.16 L1415.98,482.46 L1417.57,482.78 L1419.15,483.10 L1420.74,483.43 L1422.33,483.77 L1423.91,484.12 L1425.50,484.48 L1427.08,484.85 L1428.67,485.23 L1430.25,485.61 L1431.84,486.01 L1433.42,486.42 L1435.01,486.83 L1436.59,487.26 L1438.18,487.69 L1439.76,488.13 L1441.35,488.58 L1442.94,489.04 L1444.52,489.51 L1446.11,489.98 L1447.69,490.47 L1449.28,490.96 L1450.86,491.46 L1452.45,491.97 L1454.03,492.49 L1455.62,493.02 L1457.20,493.56 L1458.79,494.10 L1460.37,494.65 L1461.96,495.21 L1463.54,495.78 L1465.13,496.35 L1466.72,496.93 L1468.30,497.53 L1469.89,498.12 L1471.47,498.73 L1473.06,499.34 L1474.64,499.97 L1476.23,500.60 L1477.81,501.23 L1479.40,501.88 L1480.98,502.53 L1482.57,503.19 L1484.15,503.85 L1485.74,504.53 L1487.33,505.21 L1488.91,505.90 L1490.50,506.59 L1492.08,507.30 L1493.67,508.01 L1495.25,508.72 L1496.84,509.45 L1498.42,510.18 L1500.01,510.92 L1501.59,511.66 L1503.18,512.41 L1504.76,513.17 L1506.35,513.94 L1507.93,514.71 L1509.52,515.49 L1511.11,516.28 L1512.69,517.08 L1514.28,517.88 L1515.86,518.69 L1517.45,519.50 L1519.03,520.32 L1520.62,521.15 L1522.20,521.99 L1523.79,522.83 L1525.37,523.68 L1526.96,524.54 L1528.54,525.41 L1530.13,526.28 L1531.72,527.16 L1533.30,528.04 L1534.89,528.93 L1536.47,529.84 L1538.06,530.74 L1539.64,531.66 L1541.23,532.58 L1542.81,533.51 L1544.40,534.45 L1545.98,535.39 L1547.57,536.34 L1549.15,537.30 L1550.74,538.27 L1552.32,539.24 L1553.91,540.22 L1555.50,541.21 L1557.08,542.21 L1558.67,543.22 L1560.25,544.23 L1561.84,545.26 L1563.42,546.29 L1565.01,547.32 L1566.59,548.37 L1568.18,549.43 L1569.76,550.49 L1571.35,551.57 L1572.93,552.65 L1574.52,553.74 L1576.11,554.84 L1577.69,555.95 L1579.28,557.07 L1580.86,558.20 L1582.45,559.33 L1584.03,560.48 L1585.62,561.64 L1587.20,562.81 L1588.79,563.98 L1590.37,565.17 L1591.96,566.37 L1593.54,567.58 L1595.13,568.80 L1596.71,570.03 L1598.30,571.27" stroke="#ff0000" stroke-dasharray="14.9 18.4" stroke-dashoffset="-2.26"/>
<path d="M1219.40,526.17 L1220.99,525.34 L1222.57,524.51 L1224.16,523.68 L1225.74,522.86 L1227.33,522.04 L1228.91,521.22 L1230.50,520.40 L1232.08,519.59 L1233.67,518.78 L1235.25,517.97 L1236.84,517.17 L1238.42,516.37 L1240.01,515.58 L1241.59,514.79 L1243.18,514.01 L1244.77,513.23 L1246.35,512.46 L1247.94,511.69 L1249.52,510.93 L1251.11,510.18 L1252.69,509.43 L1254.28,508.69 L1255.86,507.96 L1257.45,507.23 L1259.03,506.51 L1260.62,505.80 L1262.20,505.09 L1263.79,504.40 L1265.38,503.71 L1266.96,503.03 L1268.55,502.36 L1270.13,501.69 L1271.72,501.04 L1273.30,500.39 L1274.89,499.75 L1276.47,499.13 L1278.06,498.51 L1279.64,497.90 L1281.23,497.30 L1282.81,496.71 L1284.40,496.13 L1285.98,495.56 L1287.57,495.00 L1289.16,494.45 L1290.74,493.91 L1292.33,493.38 L1293.91,492.86 L1295.50,492.35 L1297.08,491.85 L1298.67,491.37 L1300.25,490.89 L1301.84,490.42 L1303.42,489.97 L1305.01,489.53 L1306.59,489.09 L1308.18,488.67 L1309.77,488.26 L1311.35,487.86 L1312.94,487.48 L1314.52,487.10 L1316.11,486.74 L1317.69,486.38 L1319.28,486.04 L1320.86,485.71 L1322.45,485.39 L1324.03,485.09 L1325.62,484.79 L1327.20,484.51 L1328.79,484.24 L1330.37,483.98 L1331.96,483.73 L1333.55,483.50 L1335.13,483.27 L1336.72,483.06 L1338.30,482.86 L1339.89,482.67 L1341.47,482.50 L1343.06,482.33 L1344.64,482.18 L1346.23,482.04 L1347.81,481.91 L1349.40,481.80 L1350.98,481.69 L1352.57,481.60 L1354.16,481.52 L1355.74,481.45 L1357.33,481.40 L1358.91,481.35 L1360.50,481.32 L1362.08,481.30 L1363.67,481.29 L1365.25,481.29 L1366.84,481.30 L1368.42,481.33 L1370.01,481.37 L1371.59,481.42 L1373.18,481.48 L1374.76,481.55 L1376.35,481.63 L1377.94,481.73 L1379.52,481.84 L1381.11,481.96 L1382.69,482.09 L1384.28,482.23 L1385.86,482.38 L1387.45,482.54 L1389.03,482.72 L1390.62,482.90 L1392.20,483.10 L1393.79,483.31 L1395.37,483.53 L1396.96,483.76 L1398.55,484.00 L1400.13,484.25 L1401.72,484.52 L1403.30,484.79 L1404.89,485.08 L1406.47,485.37 L1408.06,485.68 L1409.64,485.99 L1411.23,486.32 L1412.81,486.66 L1414.40,487.01 L1415.98,487.36 L1417.57,487.73 L1419.15,488.11 L1420.74,488.50 L1422.33,488.90 L1423.91,489.31 L1425.50,489.73 L1427.08,490.16 L1428.67,490.59 L1430.25,491.04 L1431.84,491.50 L1433.42,491.97 L1435.01,492.45 L1436.59,492.93 L1438.18,493.43 L1439.76,493.93 L1441.35,494.45 L1442.94,494.97 L1444.52,495.51 L1446.11,496.05 L1447.69,496.60 L1449.28,497.16 L1450.86,497.73 L1452.45,498.31 L1454.03,498.90 L1455.62,499.49 L1457.20,500.10 L1458.79,500.71 L1460.37,501.34 L1461.96,501.97 L1463.54,502.61 L1465.13,503.26 L1466.72,503.91 L1468.30,504.58 L1469.89,505.25 L1471.47,505.93 L1473.06,506.62 L1474.64,507.32 L1476.23,508.03 L1477.81,508.74 L1479.40,509.46 L1480.98,510.20 L1482.57,510.93 L1484.15,511.68 L1485.74,512.44 L1487.33,513.20 L1488.91,513.97 L1490.50,514.75 L1492.08,515.53 L1493.67,516.33 L1495.25,517.13 L1496.84,517.94 L1498.42,518.76 L1500.01,519.58 L1501.59,520.41 L1503.18,521.25 L1504.76,522.10 L1506.35,522.96 L1507.93,523.82 L1509.52,524.69 L1511.11,525.57 L1512.69,526.46 L1514.28,527.35 L1515.86,528.25 L1517.45,529.16 L1519.03,530.08 L1520.62,531.00 L1522.20,531.93 L1523.79,532.87 L1525.37,533.82 L1526.96,534.78 L1528.54,535.74 L1530.13,536.71 L1531.72,537.69 L1533.30,538.68 L1534.89,539.67 L1536.47,540.67 L1538.06,541.68 L1539.64,542.70 L1541.23,543.72 L1542.81,544.76 L1544.40,545.80 L1545.98,546.85 L1547.57,547.91 L1549.15,548.98 L1550.74,550.05 L1552.32,551.13 L1553.91,552.23 L1555.50,553.33 L1557.08,554.43 L1558.67,555.55 L1560.25,556.68 L1561.84,557.81 L1563.42,558.96 L1565.01,560.11 L1566.59,561.27 L1568.18,562.45 L1569.76,563.63 L1571.35,564.82 L1572.93,566.02 L1574.52,567.23 L1576.11,568.45 L1577.69,569.68 L1579.28,570.92 L1580.86,572.17 L1582.45,573.43 L1584.03,574.70 L1585.62,575.98 L1587.20,577.27 L1588.79,578.57 L1590.37,579.89 L1591.96,581.22 L1593.54,582.55 L1595.13,583.90 L1596.71,585.26 L1598.30,586.63" stroke="#008000"/>
</g>
<g fill="none" stroke-width="3.7"><path d="M1283.2,526.0h81" stroke="#0000ff" stroke-dasharray="6.6 5.9"/><path d="M1283.2,557.65h81" stroke="#ff0000" stroke-dasharray="14.9 18.4"/><path d="M1282.2,589.30h83" stroke="#008000"/></g>
<g transform="matrix(0.39048 0 0 0.34118 73.74 28.07)" fill="#000" stroke="#fff" stroke-width="1.37"><text font-family="'Liberation Serif', 'DejaVu Serif', serif" font-size="100">0</text></g>
<g transform="matrix(0.36154 0 0 0.34167 93.83 27.41)" fill="#000" stroke="#fff" stroke-width="1.42"><text font-family="'Liberation Serif', 'DejaVu Serif', serif" font-size="100">.</text></g>
<g transform="matrix(0.37750 0 0 0.35152 103.54 28.40)" fill="#000" stroke="#fff" stroke-width="1.37"><text font-family="'Liberation Serif', 'DejaVu Serif', serif" font-size="100">5</text></g>
<g transform="matrix(0.39048 0 0 0.34118 103.34 151.82)" fill="#000" stroke="#fff" stroke-width="1.37"><text font-family="'Liberation Serif', 'DejaVu Serif', serif" font-size="100">0</text></g>
<g transform="matrix(0.39048 0 0 0.34118 73.59 275.37)" fill="#000" stroke="#fff" stroke-width="1.37"><text font-family="'Liberation Serif', 'DejaVu Serif', serif" font-size="100">0</text></g>
<g transform="matrix(0.36154 0 0 0.34167 93.68 274.71)" fill="#000" stroke="#fff" stroke-width="1.42"><text font-family="'Liberation Serif', 'DejaVu Serif', serif" font-size="100">.</text></g>
<g transform="matrix(0.37750 0 0 0.35152 103.38 275.70)" fill="#000" stroke="#fff" stroke-width="1.37"><text font-family="'Liberation Serif', 'DejaVu Serif', serif" font-size="100">5</text></g>
<g transform="matrix(0.47872 0 0 0.52000 45.36 284.14)" fill="#000" stroke="#fff" stroke-width="1.00"><text font-family="'Liberation Serif', 'DejaVu Serif', serif" font-size="100">−</text></g>
<g transform="matrix(0.39048 0 0 0.34118 131.39 299.57)" fill="#000" stroke="#fff" stroke-width="1.37"><text font-family="'Liberation Serif', 'DejaVu Serif', serif" font-size="100">0</text></g>
<g transform="matrix(0.36154 0 0 0.34167 151.48 298.91)" fill="#000" stroke="#fff" stroke-width="1.42"><text font-family="'Liberation Serif', 'DejaVu Serif', serif" font-size="100">.</text></g>
<g transform="matrix(0.37750 0 0 0.35152 161.19 299.90)" fill="#000" stroke="#fff" stroke-width="1.37"><text font-family="'Liberation Serif', 'DejaVu Serif', serif" font-size="100">5</text></g>
<g transform="matrix(0.47872 0 0 0.52000 103.16 308.34)" fill="#000" stroke="#fff" stroke-width="1.00"><text font-family="'Liberation Serif', 'DejaVu Serif', serif" font-size="100">−</text></g>
<g transform="matrix(0.39048 0 0 0.34118 304.24 299.67)" fill="#000" stroke="#fff" stroke-width="1.37"><text font-family="'Liberation Serif', 'DejaVu Serif', serif" font-size="100">0</text></g>
<g transform="matrix(0.39048 0 0 0.34118 470.24 299.67)" fill="#000" stroke="#fff" stroke-width="1.37"><text font-family="'Liberation Serif', 'DejaVu Serif', serif" font-size="100">0</text></g>
<g transform="matrix(0.36154 0 0 0.34167 490.33 299.01)" fill="#000" stroke="#fff" stroke-width="1.42"><text font-family="'Liberation Serif', 'DejaVu Serif', serif" font-size="100">.</text></g>
<g transform="matrix(0.37750 0 0 0.35152 500.04 300.00)" fill="#000" stroke="#fff" stroke-width="1.37"><text font-family="'Liberation Serif', 'DejaVu Serif', serif" font-size="100">5</text></g>
<g transform="matrix(0.39048 0 0 0.34118 605.29 30.62)" fill="#000" stroke="#fff" stroke-width="1.37"><text font-family="'Liberation Serif', 'DejaVu Serif', serif" font-size="100">0</text></g>
<g transform="matrix(0.36154 0 0 0.34167 625.38 29.96)" fill="#000" stroke="#fff" stroke-width="1.42"><text font-family="'Liberation Serif', 'DejaVu Serif', serif" font-size="100">.</text></g>
<g transform="matrix(0.37750 0 0 0.35152 635.08 30.95)" fill="#000" stroke="#fff" stroke-width="1.37"><text font-family="'Liberation Serif', 'DejaVu Serif', serif" font-size="100">5</text></g>
<g transform="matrix(0.39048 0 0 0.34118 635.09 154.32)" fill="#000" stroke="#fff" stroke-width="1.37"><text font-family="'Liberation Serif', 'DejaVu Serif', serif" font-size="100">0</text></g>
<g transform="matrix(0.39048 0 0 0.34118 604.84 277.72)" fill="#000" stroke="#fff" stroke-width="1.37"><text font-family="'Liberation Serif', 'DejaVu Serif', serif" font-size="100">0</text></g>
<g transform="matrix(0.36154 0 0 0.34167 624.93 277.06)" fill="#000" stroke="#fff" stroke-width="1.42"><text font-family="'Liberation Serif', 'DejaVu Serif', serif" font-size="100">.</text></g>
<g transform="matrix(0.37750 0 0 0.35152 634.63 278.05)" fill="#000" stroke="#fff" stroke-width="1.37"><text font-family="'Liberation Serif', 'DejaVu Serif', serif" font-size="100">5</text></g>
<g transform="matrix(0.47872 0 0 0.52000 576.61 286.49)" fill="#000" stroke="#fff" stroke-width="1.00"><text font-family="'Liberation Serif', 'DejaVu Serif', serif" font-size="100">−</text></g>
<g transform="matrix(0.39048 0 0 0.34118 670.59 303.52)" fill="#000" stroke="#fff" stroke-width="1.37"><text font-family="'Liberation Serif', 'DejaVu Serif', serif" font-size="100">0</text></g>
<g transform="matrix(0.36154 0 0 0.34167 690.68 302.86)" fill="#000" stroke="#fff" stroke-width="1.42"><text font-family="'Liberation Serif', 'DejaVu Serif', serif" font-size="100">.</text></g>
<g transform="matrix(0.37750 0 0 0.35152 700.38 303.85)" fill="#000" stroke="#fff" stroke-width="1.37"><text font-family="'Liberation Serif', 'DejaVu Serif', serif" font-size="100">5</text></g>
<g transform="matrix(0.47872 0 0 0.52000 642.36 312.29)" fill="#000" stroke="#fff" stroke-width="1.00"><text font-family="'Liberation Serif', 'DejaVu Serif', serif" font-size="100">−</text></g>
<g transform="matrix(0.39048 0 0 0.34118 844.04 303.27)" fill="#000" stroke="#fff" stroke-width="1.37"><text font-family="'Liberation Serif', 'DejaVu Serif', serif" font-size="100">0</text></g>
<g transform="matrix(0.39048 0 0 0.34118 1009.64 303.32)" fill="#000" stroke="#fff" stroke-width="1.37"><text font-family="'Liberation Serif', 'DejaVu Serif', serif" font-size="100">0</text></g>
<g transform="matrix(0.36154 0 0 0.34167 1029.73 302.66)" fill="#000" stroke="#fff" stroke-width="1.42"><text font-family="'Liberation Serif', 'DejaVu Serif', serif" font-size="100">.</text></g>
<g transform="matrix(0.37750 0 0 0.35152 1039.43 303.65)" fill="#000" stroke="#fff" stroke-width="1.37"><text font-family="'Liberation Serif', 'DejaVu Serif', serif" font-size="100">5</text></g>
<g transform="matrix(0.39048 0 0 0.34118 1158.14 30.92)" fill="#000" stroke="#fff" stroke-width="1.37"><text font-family="'Liberation Serif', 'DejaVu Serif', serif" font-size="100">0</text></g>
<g transform="matrix(0.36154 0 0 0.34167 1178.23 30.26)" fill="#000" stroke="#fff" stroke-width="1.42"><text font-family="'Liberation Serif', 'DejaVu Serif', serif" font-size="100">.</text></g>
<g transform="matrix(0.37750 0 0 0.35152 1187.93 31.25)" fill="#000" stroke="#fff" stroke-width="1.37"><text font-family="'Liberation Serif', 'DejaVu Serif', serif" font-size="100">5</text></g>
<g transform="matrix(0.39048 0 0 0.34118 1187.64 154.32)" fill="#000" stroke="#fff" stroke-width="1.37"><text font-family="'Liberation Serif', 'DejaVu Serif', serif" font-size="100">0</text></g>
<g transform="matrix(0.39048 0 0 0.34118 1157.94 277.72)" fill="#000" stroke="#fff" stroke-width="1.37"><text font-family="'Liberation Serif', 'DejaVu Serif', serif" font-size="100">0</text></g>
<g transform="matrix(0.36154 0 0 0.34167 1178.03 277.06)" fill="#000" stroke="#fff" stroke-width="1.42"><text font-family="'Liberation Serif', 'DejaVu Serif', serif" font-size="100">.</text></g>
<g transform="matrix(0.37750 0 0 0.35152 1187.74 278.05)" fill="#000" stroke="#fff" stroke-width="1.37"><text font-family="'Liberation Serif', 'DejaVu Serif', serif" font-size="100">5</text></g>
<g transform="matrix(0.47872 0 0 0.52000 1129.71 286.49)" fill="#000" stroke="#fff" stroke-width="1.00"><text font-family="'Liberation Serif', 'DejaVu Serif', serif" font-size="100">−</text></g>
<g transform="matrix(0.39048 0 0 0.34118 1220.89 301.52)" fill="#000" stroke="#fff" stroke-width="1.37"><text font-family="'Liberation Serif', 'DejaVu Serif', serif" font-size="100">0</text></g>
<g transform="matrix(0.36154 0 0 0.34167 1240.98 300.86)" fill="#000" stroke="#fff" stroke-width="1.42"><text font-family="'Liberation Serif', 'DejaVu Serif', serif" font-size="100">.</text></g>
<g transform="matrix(0.37750 0 0 0.35152 1250.69 301.85)" fill="#000" stroke="#fff" stroke-width="1.37"><text font-family="'Liberation Serif', 'DejaVu Serif', serif" font-size="100">5</text></g>
<g transform="matrix(0.47872 0 0 0.52000 1192.66 310.29)" fill="#000" stroke="#fff" stroke-width="1.00"><text font-family="'Liberation Serif', 'DejaVu Serif', serif" font-size="100">−</text></g>
<g transform="matrix(0.39048 0 0 0.34118 1393.84 301.52)" fill="#000" stroke="#fff" stroke-width="1.37"><text font-family="'Liberation Serif', 'DejaVu Serif', serif" font-size="100">0</text></g>
<g transform="matrix(0.39048 0 0 0.34118 1559.89 301.22)" fill="#000" stroke="#fff" stroke-width="1.37"><text font-family="'Liberation Serif', 'DejaVu Serif', serif" font-size="100">0</text></g>
<g transform="matrix(0.36154 0 0 0.34167 1579.98 300.56)" fill="#000" stroke="#fff" stroke-width="1.42"><text font-family="'Liberation Serif', 'DejaVu Serif', serif" font-size="100">.</text></g>
<g transform="matrix(0.37750 0 0 0.35152 1589.68 301.55)" fill="#000" stroke="#fff" stroke-width="1.37"><text font-family="'Liberation Serif', 'DejaVu Serif', serif" font-size="100">5</text></g>
<g transform="matrix(0.39048 0 0 0.34118 76.04 421.67)" fill="#000" stroke="#fff" stroke-width="1.37"><text font-family="'Liberation Serif', 'DejaVu Serif', serif" font-size="100">0</text></g>
<g transform="matrix(0.36154 0 0 0.34167 96.13 421.01)" fill="#000" stroke="#fff" stroke-width="1.42"><text font-family="'Liberation Serif', 'DejaVu Serif', serif" font-size="100">.</text></g>
<g transform="matrix(0.37561 0 0 0.34627 106.40 422.00)" fill="#000" stroke="#fff" stroke-width="1.39"><text font-family="'Liberation Serif', 'DejaVu Serif', serif" font-size="100">2</text></g>
<g transform="matrix(0.47872 0 0 0.52000 47.81 430.44)" fill="#000" stroke="#fff" stroke-width="1.00"><text font-family="'Liberation Serif', 'DejaVu Serif', serif" font-size="100">−</text></g>
<g transform="matrix(0.39048 0 0 0.34118 75.94 528.57)" fill="#000" stroke="#fff" stroke-width="1.37"><text font-family="'Liberation Serif', 'DejaVu Serif', serif" font-size="100">0</text></g>
<g transform="matrix(0.36154 0 0 0.34167 96.03 527.91)" fill="#000" stroke="#fff" stroke-width="1.42"><text font-family="'Liberation Serif', 'DejaVu Serif', serif" font-size="100">.</text></g>
<g transform="matrix(0.38537 0 0 0.34627 105.57 528.90)" fill="#000" stroke="#fff" stroke-width="1.37"><text font-family="'Liberation Serif', 'DejaVu Serif', serif" font-size="100">3</text></g>
<g transform="matrix(0.47872 0 0 0.52000 47.71 537.34)" fill="#000" stroke="#fff" stroke-width="1.00"><text font-family="'Liberation Serif', 'DejaVu Serif', serif" font-size="100">−</text></g>
<g transform="matrix(0.39048 0 0 0.34118 76.59 634.72)" fill="#000" stroke="#fff" stroke-width="1.37"><text font-family="'Liberation Serif', 'DejaVu Serif', serif" font-size="100">0</text></g>
<g transform="matrix(0.36154 0 0 0.34167 96.68 634.06)" fill="#000" stroke="#fff" stroke-width="1.42"><text font-family="'Liberation Serif', 'DejaVu Serif', serif" font-size="100">.</text></g>
<g transform="matrix(0.35532 0 0 0.35152 107.24 635.05)" fill="#000" stroke="#fff" stroke-width="1.41"><text font-family="'Liberation Serif', 'DejaVu Serif', serif" font-size="100">4</text></g>
<g transform="matrix(0.47872 0 0 0.52000 48.36 643.49)" fill="#000" stroke="#fff" stroke-width="1.00"><text font-family="'Liberation Serif', 'DejaVu Serif', serif" font-size="100">−</text></g>
<g transform="matrix(0.39048 0 0 0.34118 134.99 654.92)" fill="#000" stroke="#fff" stroke-width="1.37"><text font-family="'Liberation Serif', 'DejaVu Serif', serif" font-size="100">0</text></g>
<g transform="matrix(0.36154 0 0 0.34167 155.08 654.26)" fill="#000" stroke="#fff" stroke-width="1.42"><text font-family="'Liberation Serif', 'DejaVu Serif', serif" font-size="100">.</text></g>
<g transform="matrix(0.37750 0 0 0.35152 164.79 655.25)" fill="#000" stroke="#fff" stroke-width="1.37"><text font-family="'Liberation Serif', 'DejaVu Serif', serif" font-size="100">5</text></g>
<g transform="matrix(0.47872 0 0 0.52000 106.76 663.69)" fill="#000" stroke="#fff" stroke-width="1.00"><text font-family="'Liberation Serif', 'DejaVu Serif', serif" font-size="100">−</text></g>
<g transform="matrix(0.39048 0 0 0.34118 308.29 654.87)" fill="#000" stroke="#fff" stroke-width="1.37"><text font-family="'Liberation Serif', 'DejaVu Serif', serif" font-size="100">0</text></g>
<g transform="matrix(0.39048 0 0 0.34118 474.04 654.87)" fill="#000" stroke="#fff" stroke-width="1.37"><text font-family="'Liberation Serif', 'DejaVu Serif', serif" font-size="100">0</text></g>
<g transform="matrix(0.36154 0 0 0.34167 494.13 654.21)" fill="#000" stroke="#fff" stroke-width="1.42"><text font-family="'Liberation Serif', 'DejaVu Serif', serif" font-size="100">.</text></g>
<g transform="matrix(0.37750 0 0 0.35152 503.84 655.20)" fill="#000" stroke="#fff" stroke-width="1.37"><text font-family="'Liberation Serif', 'DejaVu Serif', serif" font-size="100">5</text></g>
<g transform="matrix(0.39048 0 0 0.34118 604.49 415.37)" fill="#000" stroke="#fff" stroke-width="1.37"><text font-family="'Liberation Serif', 'DejaVu Serif', serif" font-size="100">0</text></g>
<g transform="matrix(0.36154 0 0 0.34167 624.58 414.71)" fill="#000" stroke="#fff" stroke-width="1.42"><text font-family="'Liberation Serif', 'DejaVu Serif', serif" font-size="100">.</text></g>
<g transform="matrix(0.38537 0 0 0.34627 634.12 415.70)" fill="#000" stroke="#fff" stroke-width="1.37"><text font-family="'Liberation Serif', 'DejaVu Serif', serif" font-size="100">3</text></g>
<g transform="matrix(0.47872 0 0 0.52000 576.26 424.14)" fill="#000" stroke="#fff" stroke-width="1.00"><text font-family="'Liberation Serif', 'DejaVu Serif', serif" font-size="100">−</text></g>
<g transform="matrix(0.39048 0 0 0.34118 604.14 523.22)" fill="#000" stroke="#fff" stroke-width="1.37"><text font-family="'Liberation Serif', 'DejaVu Serif', serif" font-size="100">0</text></g>
<g transform="matrix(0.36154 0 0 0.34167 624.23 522.56)" fill="#000" stroke="#fff" stroke-width="1.42"><text font-family="'Liberation Serif', 'DejaVu Serif', serif" font-size="100">.</text></g>
<g transform="matrix(0.35532 0 0 0.35152 634.79 523.55)" fill="#000" stroke="#fff" stroke-width="1.41"><text font-family="'Liberation Serif', 'DejaVu Serif', serif" font-size="100">4</text></g>
<g transform="matrix(0.47872 0 0 0.52000 575.91 531.99)" fill="#000" stroke="#fff" stroke-width="1.00"><text font-family="'Liberation Serif', 'DejaVu Serif', serif" font-size="100">−</text></g>
<g transform="matrix(0.39048 0 0 0.34118 604.44 630.77)" fill="#000" stroke="#fff" stroke-width="1.37"><text font-family="'Liberation Serif', 'DejaVu Serif', serif" font-size="100">0</text></g>
<g transform="matrix(0.36154 0 0 0.34167 624.53 630.11)" fill="#000" stroke="#fff" stroke-width="1.42"><text font-family="'Liberation Serif', 'DejaVu Serif', serif" font-size="100">.</text></g>
<g transform="matrix(0.37750 0 0 0.35152 634.24 631.10)" fill="#000" stroke="#fff" stroke-width="1.37"><text font-family="'Liberation Serif', 'DejaVu Serif', serif" font-size="100">5</text></g>
<g transform="matrix(0.47872 0 0 0.52000 576.21 639.54)" fill="#000" stroke="#fff" stroke-width="1.00"><text font-family="'Liberation Serif', 'DejaVu Serif', serif" font-size="100">−</text></g>
<g transform="matrix(0.39048 0 0 0.34118 671.74 653.37)" fill="#000" stroke="#fff" stroke-width="1.37"><text font-family="'Liberation Serif', 'DejaVu Serif', serif" font-size="100">0</text></g>
<g transform="matrix(0.36154 0 0 0.34167 691.83 652.71)" fill="#000" stroke="#fff" stroke-width="1.42"><text font-family="'Liberation Serif', 'DejaVu Serif', serif" font-size="100">.</text></g>
<g transform="matrix(0.37750 0 0 0.35152 701.53 653.70)" fill="#000" stroke="#fff" stroke-width="1.37"><text font-family="'Liberation Serif', 'DejaVu Serif', serif" font-size="100">5</text></g>
<g transform="matrix(0.47872 0 0 0.52000 643.51 662.14)" fill="#000" stroke="#fff" stroke-width="1.00"><text font-family="'Liberation Serif', 'DejaVu Serif', serif" font-size="100">−</text></g>
<g transform="matrix(0.39048 0 0 0.34118 845.04 653.32)" fill="#000" stroke="#fff" stroke-width="1.37"><text font-family="'Liberation Serif', 'DejaVu Serif', serif" font-size="100">0</text></g>
<g transform="matrix(0.39048 0 0 0.34118 1011.19 653.32)" fill="#000" stroke="#fff" stroke-width="1.37"><text font-family="'Liberation Serif', 'DejaVu Serif', serif" font-size="100">0</text></g>
<g transform="matrix(0.36154 0 0 0.34167 1031.28 652.66)" fill="#000" stroke="#fff" stroke-width="1.42"><text font-family="'Liberation Serif', 'DejaVu Serif', serif" font-size="100">.</text></g>
<g transform="matrix(0.37750 0 0 0.35152 1040.99 653.65)" fill="#000" stroke="#fff" stroke-width="1.37"><text font-family="'Liberation Serif', 'DejaVu Serif', serif" font-size="100">5</text></g>
<g transform="matrix(0.39048 0 0 0.34118 1163.14 412.57)" fill="#000" stroke="#fff" stroke-width="1.37"><text font-family="'Liberation Serif', 'DejaVu Serif', serif" font-size="100">0</text></g>
<g transform="matrix(0.36154 0 0 0.34167 1183.23 411.91)" fill="#000" stroke="#fff" stroke-width="1.42"><text font-family="'Liberation Serif', 'DejaVu Serif', serif" font-size="100">.</text></g>
<g transform="matrix(0.35532 0 0 0.35152 1193.79 412.90)" fill="#000" stroke="#fff" stroke-width="1.41"><text font-family="'Liberation Serif', 'DejaVu Serif', serif" font-size="100">4</text></g>
<g transform="matrix(0.47872 0 0 0.52000 1134.91 421.34)" fill="#000" stroke="#fff" stroke-width="1.00"><text font-family="'Liberation Serif', 'DejaVu Serif', serif" font-size="100">−</text></g>
<g transform="matrix(0.39048 0 0 0.34118 1163.59 520.32)" fill="#000" stroke="#fff" stroke-width="1.37"><text font-family="'Liberation Serif', 'DejaVu Serif', serif" font-size="100">0</text></g>
<g transform="matrix(0.36154 0 0 0.34167 1183.68 519.66)" fill="#000" stroke="#fff" stroke-width="1.42"><text font-family="'Liberation Serif', 'DejaVu Serif', serif" font-size="100">.</text></g>
<g transform="matrix(0.37750 0 0 0.35152 1193.39 520.65)" fill="#000" stroke="#fff" stroke-width="1.37"><text font-family="'Liberation Serif', 'DejaVu Serif', serif" font-size="100">5</text></g>
<g transform="matrix(0.47872 0 0 0.52000 1135.36 529.09)" fill="#000" stroke="#fff" stroke-width="1.00"><text font-family="'Liberation Serif', 'DejaVu Serif', serif" font-size="100">−</text></g>
<g transform="matrix(0.39048 0 0 0.34118 1163.49 628.17)" fill="#000" stroke="#fff" stroke-width="1.37"><text font-family="'Liberation Serif', 'DejaVu Serif', serif" font-size="100">0</text></g>
<g transform="matrix(0.36154 0 0 0.34167 1183.58 627.51)" fill="#000" stroke="#fff" stroke-width="1.42"><text font-family="'Liberation Serif', 'DejaVu Serif', serif" font-size="100">.</text></g>
<g transform="matrix(0.36279 0 0 0.34118 1193.80 628.17)" fill="#000" stroke="#fff" stroke-width="1.42"><text font-family="'Liberation Serif', 'DejaVu Serif', serif" font-size="100">6</text></g>
<g transform="matrix(0.47872 0 0 0.52000 1135.26 636.94)" fill="#000" stroke="#fff" stroke-width="1.00"><text font-family="'Liberation Serif', 'DejaVu Serif', serif" font-size="100">−</text></g>
<g transform="matrix(0.39048 0 0 0.34118 1225.89 651.87)" fill="#000" stroke="#fff" stroke-width="1.37"><text font-family="'Liberation Serif', 'DejaVu Serif', serif" font-size="100">0</text></g>
<g transform="matrix(0.36154 0 0 0.34167 1245.98 651.21)" fill="#000" stroke="#fff" stroke-width="1.42"><text font-family="'Liberation Serif', 'DejaVu Serif', serif" font-size="100">.</text></g>
<g transform="matrix(0.37750 0 0 0.35152 1255.69 652.20)" fill="#000" stroke="#fff" stroke-width="1.37"><text font-family="'Liberation Serif', 'DejaVu Serif', serif" font-size="100">5</text></g>
<g transform="matrix(0.47872 0 0 0.52000 1197.66 660.64)" fill="#000" stroke="#fff" stroke-width="1.00"><text font-family="'Liberation Serif', 'DejaVu Serif', serif" font-size="100">−</text></g>
<g transform="matrix(0.39048 0 0 0.34118 1398.99 651.87)" fill="#000" stroke="#fff" stroke-width="1.37"><text font-family="'Liberation Serif', 'DejaVu Serif', serif" font-size="100">0</text></g>
<g transform="matrix(0.39048 0 0 0.34118 1564.94 651.87)" fill="#000" stroke="#fff" stroke-width="1.37"><text font-family="'Liberation Serif', 'DejaVu Serif', serif" font-size="100">0</text></g>
<g transform="matrix(0.36154 0 0 0.34167 1585.03 651.21)" fill="#000" stroke="#fff" stroke-width="1.42"><text font-family="'Liberation Serif', 'DejaVu Serif', serif" font-size="100">.</text></g>
<g transform="matrix(0.37750 0 0 0.35152 1594.74 652.20)" fill="#000" stroke="#fff" stroke-width="1.37"><text font-family="'Liberation Serif', 'DejaVu Serif', serif" font-size="100">5</text></g>
<g transform="matrix(0.32889 0 0 0.35352 279.46 337.40)" fill="#000" stroke="#fff" stroke-width="0.88"><text font-family="'Liberation Serif', 'DejaVu Serif', serif" font-size="100" font-style="italic">δ</text></g>
<g transform="matrix(0.53571 0 0 0.51045 296.85 344.43)" fill="#000" stroke="#fff" stroke-width="1.72"><text font-family="'Liberation Serif', 'DejaVu Serif', serif" font-size="100">/</text></g>
<g transform="matrix(0.34127 0 0 0.33125 313.13 337.42)" fill="#000" stroke="#fff" stroke-width="0.89"><text font-family="'Liberation Serif', 'DejaVu Serif', serif" font-size="100" font-style="italic">ω</text></g>
<g transform="matrix(0.25417 0 0 0.23188 336.34 341.85)" fill="#000" stroke="#fff" stroke-width="0.41"><text font-family="'Liberation Serif', 'DejaVu Serif', serif" font-size="100">l</text></g>
<g transform="matrix(0.34848 0 0 0.42131 34.65 174.58)" fill="#000" stroke="#fff" stroke-width="0.52"><g transform="rotate(-90)"><text font-family="'Liberation Serif', 'DejaVu Serif', serif" font-size="100" font-style="italic">E</text></g></g>
<g transform="matrix(0.50746 0 0 0.53214 42.34 147.35)" fill="#000" stroke="#fff" stroke-width="1.73"><g transform="rotate(-90)"><text font-family="'Liberation Serif', 'DejaVu Serif', serif" font-size="100">/</text></g></g>
<g transform="matrix(0.32083 0 0 0.33016 34.83 130.64)" fill="#000" stroke="#fff" stroke-width="0.92"><g transform="rotate(-90)"><text font-family="'Liberation Serif', 'DejaVu Serif', serif" font-size="100" font-style="italic">ω</text></g></g>
<g transform="matrix(0.23913 0 0 0.21250 39.85 107.67)" fill="#000" stroke="#fff" stroke-width="0.44"><g transform="rotate(-90)"><text font-family="'Liberation Serif', 'DejaVu Serif', serif" font-size="100">l</text></g></g>
<g transform="matrix(0.32889 0 0 0.35352 818.86 341.80)" fill="#000" stroke="#fff" stroke-width="0.88"><text font-family="'Liberation Serif', 'DejaVu Serif', serif" font-size="100" font-style="italic">δ</text></g>
<g transform="matrix(0.53571 0 0 0.51045 836.25 348.83)" fill="#000" stroke="#fff" stroke-width="1.72"><text font-family="'Liberation Serif', 'DejaVu Serif', serif" font-size="100">/</text></g>
<g transform="matrix(0.34127 0 0 0.33125 852.53 341.82)" fill="#000" stroke="#fff" stroke-width="0.89"><text font-family="'Liberation Serif', 'DejaVu Serif', serif" font-size="100" font-style="italic">ω</text></g>
<g transform="matrix(0.25417 0 0 0.23188 875.74 346.25)" fill="#000" stroke="#fff" stroke-width="0.41"><text font-family="'Liberation Serif', 'DejaVu Serif', serif" font-size="100">l</text></g>
<g transform="matrix(0.34848 0 0 0.42131 585.35 178.18)" fill="#000" stroke="#fff" stroke-width="0.52"><g transform="rotate(-90)"><text font-family="'Liberation Serif', 'DejaVu Serif', serif" font-size="100" font-style="italic">E</text></g></g>
<g transform="matrix(0.50746 0 0 0.53214 593.04 150.95)" fill="#000" stroke="#fff" stroke-width="1.73"><g transform="rotate(-90)"><text font-family="'Liberation Serif', 'DejaVu Serif', serif" font-size="100">/</text></g></g>
<g transform="matrix(0.32083 0 0 0.33016 585.53 134.24)" fill="#000" stroke="#fff" stroke-width="0.92"><g transform="rotate(-90)"><text font-family="'Liberation Serif', 'DejaVu Serif', serif" font-size="100" font-style="italic">ω</text></g></g>
<g transform="matrix(0.23913 0 0 0.21250 590.55 111.27)" fill="#000" stroke="#fff" stroke-width="0.44"><g transform="rotate(-90)"><text font-family="'Liberation Serif', 'DejaVu Serif', serif" font-size="100">l</text></g></g>
<g transform="matrix(0.32889 0 0 0.35352 1368.86 339.70)" fill="#000" stroke="#fff" stroke-width="0.88"><text font-family="'Liberation Serif', 'DejaVu Serif', serif" font-size="100" font-style="italic">δ</text></g>
<g transform="matrix(0.53571 0 0 0.51045 1386.25 346.73)" fill="#000" stroke="#fff" stroke-width="1.72"><text font-family="'Liberation Serif', 'DejaVu Serif', serif" font-size="100">/</text></g>
<g transform="matrix(0.34127 0 0 0.33125 1402.53 339.72)" fill="#000" stroke="#fff" stroke-width="0.89"><text font-family="'Liberation Serif', 'DejaVu Serif', serif" font-size="100" font-style="italic">ω</text></g>
<g transform="matrix(0.25417 0 0 0.23188 1425.74 344.15)" fill="#000" stroke="#fff" stroke-width="0.41"><text font-family="'Liberation Serif', 'DejaVu Serif', serif" font-size="100">l</text></g>
<g transform="matrix(0.34848 0 0 0.42131 1120.95 178.18)" fill="#000" stroke="#fff" stroke-width="0.52"><g transform="rotate(-90)"><text font-family="'Liberation Serif', 'DejaVu Serif', serif" font-size="100" font-style="italic">E</text></g></g>
<g transform="matrix(0.50746 0 0 0.53214 1128.64 150.95)" fill="#000" stroke="#fff" stroke-width="1.73"><g transform="rotate(-90)"><text font-family="'Liberation Serif', 'DejaVu Serif', serif" font-size="100">/</text></g></g>
<g transform="matrix(0.32083 0 0 0.33016 1121.13 134.24)" fill="#000" stroke="#fff" stroke-width="0.92"><g transform="rotate(-90)"><text font-family="'Liberation Serif', 'DejaVu Serif', serif" font-size="100" font-style="italic">ω</text></g></g>
<g transform="matrix(0.23913 0 0 0.21250 1126.15 111.27)" fill="#000" stroke="#fff" stroke-width="0.44"><g transform="rotate(-90)"><text font-family="'Liberation Serif', 'DejaVu Serif', serif" font-size="100">l</text></g></g>
<g transform="matrix(0.32889 0 0 0.35352 282.66 693.10)" fill="#000" stroke="#fff" stroke-width="0.88"><text font-family="'Liberation Serif', 'DejaVu Serif', serif" font-size="100" font-style="italic">δ</text></g>
<g transform="matrix(0.53571 0 0 0.51045 300.05 700.13)" fill="#000" stroke="#fff" stroke-width="1.72"><text font-family="'Liberation Serif', 'DejaVu Serif', serif" font-size="100">/</text></g>
<g transform="matrix(0.34127 0 0 0.33125 316.33 693.12)" fill="#000" stroke="#fff" stroke-width="0.89"><text font-family="'Liberation Serif', 'DejaVu Serif', serif" font-size="100" font-style="italic">ω</text></g>
<g transform="matrix(0.25417 0 0 0.23188 339.54 697.55)" fill="#000" stroke="#fff" stroke-width="0.41"><text font-family="'Liberation Serif', 'DejaVu Serif', serif" font-size="100">l</text></g>
<g transform="matrix(0.34848 0 0 0.42131 28.05 542.08)" fill="#000" stroke="#fff" stroke-width="0.52"><g transform="rotate(-90)"><text font-family="'Liberation Serif', 'DejaVu Serif', serif" font-size="100" font-style="italic">E</text></g></g>
<g transform="matrix(0.50746 0 0 0.53214 35.74 514.85)" fill="#000" stroke="#fff" stroke-width="1.73"><g transform="rotate(-90)"><text font-family="'Liberation Serif', 'DejaVu Serif', serif" font-size="100">/</text></g></g>
<g transform="matrix(0.32083 0 0 0.33016 28.23 498.14)" fill="#000" stroke="#fff" stroke-width="0.92"><g transform="rotate(-90)"><text font-family="'Liberation Serif', 'DejaVu Serif', serif" font-size="100" font-style="italic">ω</text></g></g>
<g transform="matrix(0.23913 0 0 0.21250 33.25 475.18)" fill="#000" stroke="#fff" stroke-width="0.44"><g transform="rotate(-90)"><text font-family="'Liberation Serif', 'DejaVu Serif', serif" font-size="100">l</text></g></g>
<g transform="matrix(0.32889 0 0 0.35352 819.66 691.60)" fill="#000" stroke="#fff" stroke-width="0.88"><text font-family="'Liberation Serif', 'DejaVu Serif', serif" font-size="100" font-style="italic">δ</text></g>
<g transform="matrix(0.53571 0 0 0.51045 837.05 698.63)" fill="#000" stroke="#fff" stroke-width="1.72"><text font-family="'Liberation Serif', 'DejaVu Serif', serif" font-size="100">/</text></g>
<g transform="matrix(0.34127 0 0 0.33125 853.33 691.62)" fill="#000" stroke="#fff" stroke-width="0.89"><text font-family="'Liberation Serif', 'DejaVu Serif', serif" font-size="100" font-style="italic">ω</text></g>
<g transform="matrix(0.25417 0 0 0.23188 876.54 696.05)" fill="#000" stroke="#fff" stroke-width="0.41"><text font-family="'Liberation Serif', 'DejaVu Serif', serif" font-size="100">l</text></g>
<g transform="matrix(0.34848 0 0 0.42131 556.15 552.28)" fill="#000" stroke="#fff" stroke-width="0.52"><g transform="rotate(-90)"><text font-family="'Liberation Serif', 'DejaVu Serif', serif" font-size="100" font-style="italic">E</text></g></g>
<g transform="matrix(0.50746 0 0 0.53214 563.84 525.05)" fill="#000" stroke="#fff" stroke-width="1.73"><g transform="rotate(-90)"><text font-family="'Liberation Serif', 'DejaVu Serif', serif" font-size="100">/</text></g></g>
<g transform="matrix(0.32083 0 0 0.33016 556.33 508.34)" fill="#000" stroke="#fff" stroke-width="0.92"><g transform="rotate(-90)"><text font-family="'Liberation Serif', 'DejaVu Serif', serif" font-size="100" font-style="italic">ω</text></g></g>
<g transform="matrix(0.23913 0 0 0.21250 561.35 485.38)" fill="#000" stroke="#fff" stroke-width="0.44"><g transform="rotate(-90)"><text font-family="'Liberation Serif', 'DejaVu Serif', serif" font-size="100">l</text></g></g>
<g transform="matrix(0.32889 0 0 0.35352 1373.96 690.40)" fill="#000" stroke="#fff" stroke-width="0.88"><text font-family="'Liberation Serif', 'DejaVu Serif', serif" font-size="100" font-style="italic">δ</text></g>
<g transform="matrix(0.53571 0 0 0.51045 1391.35 697.43)" fill="#000" stroke="#fff" stroke-width="1.72"><text font-family="'Liberation Serif', 'DejaVu Serif', serif" font-size="100">/</text></g>
<g transform="matrix(0.34127 0 0 0.33125 1407.63 690.42)" fill="#000" stroke="#fff" stroke-width="0.89"><text font-family="'Liberation Serif', 'DejaVu Serif', serif" font-size="100" font-style="italic">ω</text></g>
<g transform="matrix(0.25417 0 0 0.23188 1430.84 694.85)" fill="#000" stroke="#fff" stroke-width="0.41"><text font-family="'Liberation Serif', 'DejaVu Serif', serif" font-size="100">l</text></g>
<g transform="matrix(0.34848 0 0 0.42131 1108.15 550.98)" fill="#000" stroke="#fff" stroke-width="0.52"><g transform="rotate(-90)"><text font-family="'Liberation Serif', 'DejaVu Serif', serif" font-size="100" font-style="italic">E</text></g></g>
<g transform="matrix(0.50746 0 0 0.53214 1115.84 523.75)" fill="#000" stroke="#fff" stroke-width="1.73"><g transform="rotate(-90)"><text font-family="'Liberation Serif', 'DejaVu Serif', serif" font-size="100">/</text></g></g>
<g transform="matrix(0.32083 0 0 0.33016 1108.33 507.04)" fill="#000" stroke="#fff" stroke-width="0.92"><g transform="rotate(-90)"><text font-family="'Liberation Serif', 'DejaVu Serif', serif" font-size="100" font-style="italic">ω</text></g></g>
<g transform="matrix(0.23913 0 0 0.21250 1113.35 484.08)" fill="#000" stroke="#fff" stroke-width="0.44"><g transform="rotate(-90)"><text font-family="'Liberation Serif', 'DejaVu Serif', serif" font-size="100">l</text></g></g>
<g transform="matrix(0.36538 0 0 0.37444 148.99 56.19)" fill="#000" stroke="#fff" stroke-width="1.35"><text font-family="'Liberation Serif', 'DejaVu Serif', serif" font-size="100">(</text></g>
<g transform="matrix(0.42750 0 0 0.32083 161.97 55.63)" fill="#000" stroke="#fff" stroke-width="1.35"><text font-family="'Liberation Serif', 'DejaVu Serif', serif" font-size="100">a</text></g>
<g transform="matrix(0.36538 0 0 0.37444 181.65 56.19)" fill="#000" stroke="#fff" stroke-width="1.35"><text font-family="'Liberation Serif', 'DejaVu Serif', serif" font-size="100">)</text></g>
<g transform="matrix(0.37308 0 0 0.38000 691.76 59.77)" fill="#000" stroke="#fff" stroke-width="1.33"><text font-family="'Liberation Serif', 'DejaVu Serif', serif" font-size="100">(</text></g>
<g transform="matrix(0.40217 0 0 0.34571 705.95 59.20)" fill="#000" stroke="#fff" stroke-width="1.34"><text font-family="'Liberation Serif', 'DejaVu Serif', serif" font-size="100">b</text></g>
<g transform="matrix(0.37308 0 0 0.38000 726.73 59.77)" fill="#000" stroke="#fff" stroke-width="1.33"><text font-family="'Liberation Serif', 'DejaVu Serif', serif" font-size="100">)</text></g>
<g transform="matrix(0.37308 0 0 0.37556 1240.26 57.36)" fill="#000" stroke="#fff" stroke-width="1.34"><text font-family="'Liberation Serif', 'DejaVu Serif', serif" font-size="100">(</text></g>
<g transform="matrix(0.38421 0 0 0.32917 1253.01 56.82)" fill="#000" stroke="#fff" stroke-width="1.41"><text font-family="'Liberation Serif', 'DejaVu Serif', serif" font-size="100">c</text></g>
<g transform="matrix(0.35769 0 0 0.37556 1271.18 57.36)" fill="#000" stroke="#fff" stroke-width="1.36"><text font-family="'Liberation Serif', 'DejaVu Serif', serif" font-size="100">)</text></g>
<g transform="matrix(0.35769 0 0 0.37556 152.52 426.26)" fill="#000" stroke="#fff" stroke-width="1.36"><text font-family="'Liberation Serif', 'DejaVu Serif', serif" font-size="100">(</text></g>
<g transform="matrix(0.40435 0 0 0.33714 165.04 425.71)" fill="#000" stroke="#fff" stroke-width="1.35"><text font-family="'Liberation Serif', 'DejaVu Serif', serif" font-size="100">d</text></g>
<g transform="matrix(0.34615 0 0 0.37556 187.51 426.26)" fill="#000" stroke="#fff" stroke-width="1.39"><text font-family="'Liberation Serif', 'DejaVu Serif', serif" font-size="100">)</text></g>
<g transform="matrix(0.37308 0 0 0.37889 682.46 421.89)" fill="#000" stroke="#fff" stroke-width="1.33"><text font-family="'Liberation Serif', 'DejaVu Serif', serif" font-size="100">(</text></g>
<g transform="matrix(0.41622 0 0 0.33542 694.59 421.41)" fill="#000" stroke="#fff" stroke-width="1.34"><text font-family="'Liberation Serif', 'DejaVu Serif', serif" font-size="100">e</text></g>
<g transform="matrix(0.37308 0 0 0.37889 713.23 421.89)" fill="#000" stroke="#fff" stroke-width="1.33"><text font-family="'Liberation Serif', 'DejaVu Serif', serif" font-size="100">)</text></g>
<g transform="matrix(0.37308 0 0 0.37556 1238.16 419.46)" fill="#000" stroke="#fff" stroke-width="1.34"><text font-family="'Liberation Serif', 'DejaVu Serif', serif" font-size="100">(</text></g>
<g transform="matrix(0.40323 0 0 0.34648 1251.14 419.25)" fill="#000" stroke="#fff" stroke-width="1.34"><text font-family="'Liberation Serif', 'DejaVu Serif', serif" font-size="100">f</text></g>
<g transform="matrix(0.37308 0 0 0.37556 1266.43 419.46)" fill="#000" stroke="#fff" stroke-width="1.34"><text font-family="'Liberation Serif', 'DejaVu Serif', serif" font-size="100">)</text></g>
<g transform="matrix(0.38920 0 0 0.33676 390.93 53.93)" fill="#000" stroke="#fff" stroke-width="0.00"><text font-family="'Liberation Serif', 'DejaVu Serif', serif" font-size="100">RWA</text></g>
<g transform="matrix(0.38995 0 0 0.34179 390.93 85.91)" fill="#000" stroke="#fff" stroke-width="0.00"><text font-family="'Liberation Serif', 'DejaVu Serif', serif" font-size="100">HFA</text></g>
<g transform="matrix(0.38067 0 0 0.33676 390.96 117.23)" fill="#000" stroke="#fff" stroke-width="0.00"><text font-family="'Liberation Serif', 'DejaVu Serif', serif" font-size="100">NS</text></g>
<g transform="matrix(0.38920 0 0 0.33676 948.53 60.43)" fill="#000" stroke="#fff" stroke-width="0.00"><text font-family="'Liberation Serif', 'DejaVu Serif', serif" font-size="100">RWA</text></g>
<g transform="matrix(0.38995 0 0 0.34179 948.53 92.41)" fill="#000" stroke="#fff" stroke-width="0.00"><text font-family="'Liberation Serif', 'DejaVu Serif', serif" font-size="100">HFA</text></g>
<g transform="matrix(0.38067 0 0 0.33676 948.56 123.73)" fill="#000" stroke="#fff" stroke-width="0.00"><text font-family="'Liberation Serif', 'DejaVu Serif', serif" font-size="100">NS</text></g>
<g transform="matrix(0.38920 0 0 0.33676 1497.63 59.23)" fill="#000" stroke="#fff" stroke-width="0.00"><text font-family="'Liberation Serif', 'DejaVu Serif', serif" font-size="100">RWA</text></g>
<g transform="matrix(0.38995 0 0 0.34179 1497.63 91.21)" fill="#000" stroke="#fff" stroke-width="0.00"><text font-family="'Liberation Serif', 'DejaVu Serif', serif" font-size="100">HFA</text></g>
<g transform="matrix(0.38067 0 0 0.33676 1497.66 122.53)" fill="#000" stroke="#fff" stroke-width="0.00"><text font-family="'Liberation Serif', 'DejaVu Serif', serif" font-size="100">NS</text></g>
<g transform="matrix(0.38920 0 0 0.33676 300.73 529.23)" fill="#000" stroke="#fff" stroke-width="0.00"><text font-family="'Liberation Serif', 'DejaVu Serif', serif" font-size="100">RWA</text></g>
<g transform="matrix(0.38995 0 0 0.34179 300.73 561.21)" fill="#000" stroke="#fff" stroke-width="0.00"><text font-family="'Liberation Serif', 'DejaVu Serif', serif" font-size="100">HFA</text></g>
<g transform="matrix(0.38067 0 0 0.33676 300.76 592.53)" fill="#000" stroke="#fff" stroke-width="0.00"><text font-family="'Liberation Serif', 'DejaVu Serif', serif" font-size="100">NS</text></g>
<g transform="matrix(0.38920 0 0 0.33676 821.43 528.93)" fill="#000" stroke="#fff" stroke-width="0.00"><text font-family="'Liberation Serif', 'DejaVu Serif', serif" font-size="100">RWA</text></g>
<g transform="matrix(0.38995 0 0 0.34179 821.43 560.91)" fill="#000" stroke="#fff" stroke-width="0.00"><text font-family="'Liberation Serif', 'DejaVu Serif', serif" font-size="100">HFA</text></g>
<g transform="matrix(0.38067 0 0 0.33676 821.46 592.23)" fill="#000" stroke="#fff" stroke-width="0.00"><text font-family="'Liberation Serif', 'DejaVu Serif', serif" font-size="100">NS</text></g>
<g transform="matrix(0.38920 0 0 0.33676 1374.93 536.53)" fill="#000" stroke="#fff" stroke-width="0.00"><text font-family="'Liberation Serif', 'DejaVu Serif', serif" font-size="100">RWA</text></g>
<g transform="matrix(0.38995 0 0 0.34179 1374.93 568.51)" fill="#000" stroke="#fff" stroke-width="0.00"><text font-family="'Liberation Serif', 'DejaVu Serif', serif" font-size="100">HFA</text></g>
<g transform="matrix(0.38067 0 0 0.33676 1374.96 599.83)" fill="#000" stroke="#fff" stroke-width="0.00"><text font-family="'Liberation Serif', 'DejaVu Serif', serif" font-size="100">NS</text></g>
</svg></body></html>
